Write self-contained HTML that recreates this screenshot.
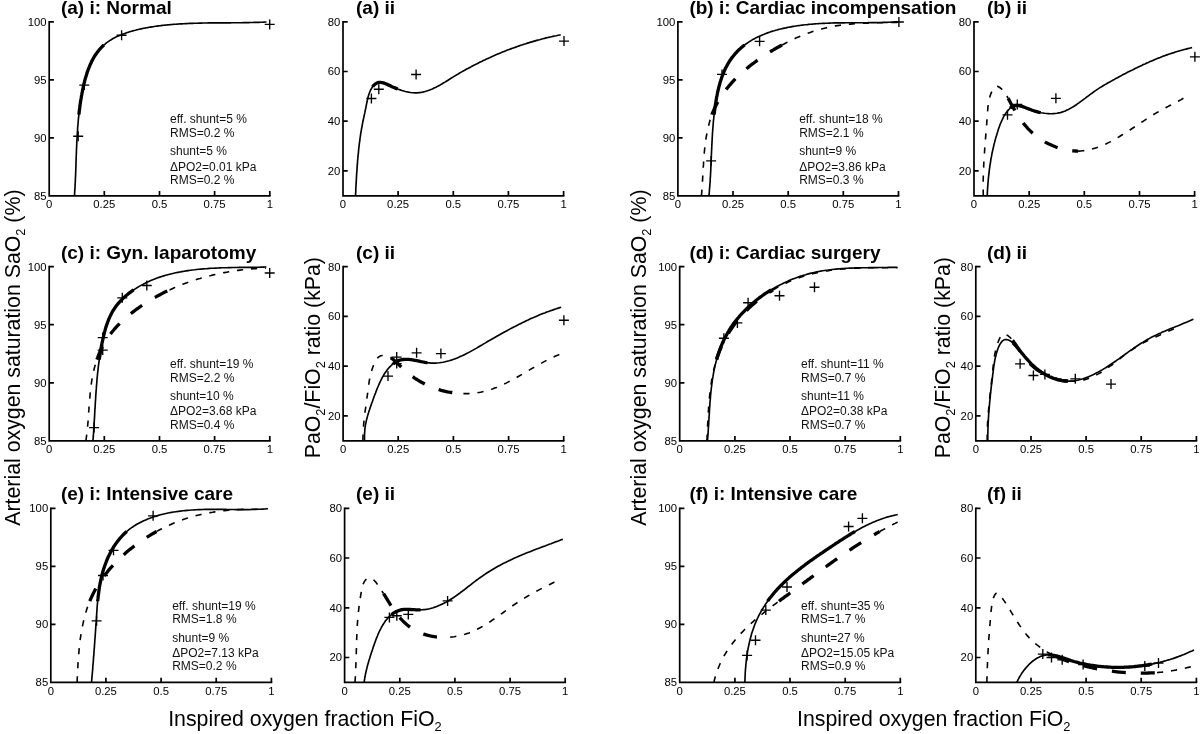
<!DOCTYPE html>
<html><head><meta charset="utf-8"><style>
html,body{margin:0;padding:0;background:#fff;}
svg{display:block;}
text{font-family:"Liberation Sans",sans-serif;fill:#000;}
.tl{font-size:11.3px;}
.an{font-size:12px;fill:#111;}
.tt{font-size:19px;font-weight:bold;}
.lb{font-size:21.3px;}
.ax{fill:none;stroke:#000;stroke-width:1.7;stroke-linecap:square;}
.tk{fill:none;stroke:#000;stroke-width:1.7;}
.mk{fill:none;stroke:#000;stroke-width:1.35;}
.s{fill:none;stroke:#000;stroke-width:1.65;stroke-linejoin:round;}
.S{fill:none;stroke:#000;stroke-width:3.3;stroke-linejoin:round;}
.d{fill:none;stroke:#000;stroke-width:1.6;stroke-dasharray:6.2 7.9;}
.D{fill:none;stroke:#000;stroke-width:3.3;stroke-dasharray:14 15;}
</style></head><body>
<svg width="1200" height="734" viewBox="0 0 1200 734">
<rect width="1200" height="734" fill="#fff"/>
<path class="ax" d="M49.2 21.8V195.8H269.8"/>
<text class="tl" x="49.2" y="208.3" text-anchor="middle">0</text>
<text class="tl" x="104.3" y="208.3" text-anchor="middle">0.25</text>
<text class="tl" x="159.5" y="208.3" text-anchor="middle">0.5</text>
<text class="tl" x="214.6" y="208.3" text-anchor="middle">0.75</text>
<text class="tl" x="269.8" y="208.3" text-anchor="middle">1</text>
<text class="tl" x="46.6" y="199.7" text-anchor="end">85</text>
<text class="tl" x="46.6" y="141.7" text-anchor="end">90</text>
<text class="tl" x="46.6" y="83.7" text-anchor="end">95</text>
<text class="tl" x="46.6" y="25.7" text-anchor="end">100</text>
<path class="tk" d="M104.3 195.8v-4.7M159.5 195.8v-4.7M214.6 195.8v-4.7M269.8 195.8v-4.7M49.2 137.8h4.7M49.2 79.8h4.7M49.2 21.8h4.7"/>
<text class="tt" x="60.9" y="13.9">(a) i: Normal</text>
<path class="ax" d="M343.0 21.8V195.8H563.6"/>
<text class="tl" x="343.0" y="208.3" text-anchor="middle">0</text>
<text class="tl" x="398.1" y="208.3" text-anchor="middle">0.25</text>
<text class="tl" x="453.3" y="208.3" text-anchor="middle">0.5</text>
<text class="tl" x="508.4" y="208.3" text-anchor="middle">0.75</text>
<text class="tl" x="563.6" y="208.3" text-anchor="middle">1</text>
<text class="tl" x="340.4" y="174.8" text-anchor="end">20</text>
<text class="tl" x="340.4" y="125.1" text-anchor="end">40</text>
<text class="tl" x="340.4" y="75.4" text-anchor="end">60</text>
<text class="tl" x="340.4" y="25.7" text-anchor="end">80</text>
<path class="tk" d="M398.1 195.8v-4.7M453.3 195.8v-4.7M508.4 195.8v-4.7M563.6 195.8v-4.7M343.0 170.9h4.7M343.0 121.2h4.7M343.0 71.5h4.7M343.0 21.8h4.7"/>
<text class="tt" x="356.0" y="13.9">(a) ii</text>
<path class="ax" d="M677.9 21.8V195.8H898.5"/>
<text class="tl" x="677.9" y="208.3" text-anchor="middle">0</text>
<text class="tl" x="733.0" y="208.3" text-anchor="middle">0.25</text>
<text class="tl" x="788.2" y="208.3" text-anchor="middle">0.5</text>
<text class="tl" x="843.3" y="208.3" text-anchor="middle">0.75</text>
<text class="tl" x="898.5" y="208.3" text-anchor="middle">1</text>
<text class="tl" x="675.3" y="199.7" text-anchor="end">85</text>
<text class="tl" x="675.3" y="141.7" text-anchor="end">90</text>
<text class="tl" x="675.3" y="83.7" text-anchor="end">95</text>
<text class="tl" x="675.3" y="25.7" text-anchor="end">100</text>
<path class="tk" d="M733.0 195.8v-4.7M788.2 195.8v-4.7M843.3 195.8v-4.7M898.5 195.8v-4.7M677.9 137.8h4.7M677.9 79.8h4.7M677.9 21.8h4.7"/>
<text class="tt" x="689.4" y="13.9">(b) i: Cardiac incompensation</text>
<path class="ax" d="M974.0 21.8V195.8H1194.6"/>
<text class="tl" x="974.0" y="208.3" text-anchor="middle">0</text>
<text class="tl" x="1029.2" y="208.3" text-anchor="middle">0.25</text>
<text class="tl" x="1084.3" y="208.3" text-anchor="middle">0.5</text>
<text class="tl" x="1139.5" y="208.3" text-anchor="middle">0.75</text>
<text class="tl" x="1194.6" y="208.3" text-anchor="middle">1</text>
<text class="tl" x="971.4" y="174.8" text-anchor="end">20</text>
<text class="tl" x="971.4" y="125.1" text-anchor="end">40</text>
<text class="tl" x="971.4" y="75.4" text-anchor="end">60</text>
<text class="tl" x="971.4" y="25.7" text-anchor="end">80</text>
<path class="tk" d="M1029.2 195.8v-4.7M1084.3 195.8v-4.7M1139.5 195.8v-4.7M1194.6 195.8v-4.7M974.0 170.9h4.7M974.0 121.2h4.7M974.0 71.5h4.7M974.0 21.8h4.7"/>
<text class="tt" x="987.0" y="13.9">(b) ii</text>
<path class="ax" d="M49.2 266.7V440.8H269.8"/>
<text class="tl" x="49.2" y="453.3" text-anchor="middle">0</text>
<text class="tl" x="104.3" y="453.3" text-anchor="middle">0.25</text>
<text class="tl" x="159.5" y="453.3" text-anchor="middle">0.5</text>
<text class="tl" x="214.6" y="453.3" text-anchor="middle">0.75</text>
<text class="tl" x="269.8" y="453.3" text-anchor="middle">1</text>
<text class="tl" x="46.6" y="444.7" text-anchor="end">85</text>
<text class="tl" x="46.6" y="386.7" text-anchor="end">90</text>
<text class="tl" x="46.6" y="328.6" text-anchor="end">95</text>
<text class="tl" x="46.6" y="270.6" text-anchor="end">100</text>
<path class="tk" d="M104.3 440.8v-4.7M159.5 440.8v-4.7M214.6 440.8v-4.7M269.8 440.8v-4.7M49.2 382.8h4.7M49.2 324.7h4.7M49.2 266.7h4.7"/>
<text class="tt" x="60.9" y="258.5">(c) i: Gyn. laparotomy</text>
<path class="ax" d="M343.1 266.7V440.8H563.7"/>
<text class="tl" x="343.1" y="453.3" text-anchor="middle">0</text>
<text class="tl" x="398.2" y="453.3" text-anchor="middle">0.25</text>
<text class="tl" x="453.4" y="453.3" text-anchor="middle">0.5</text>
<text class="tl" x="508.6" y="453.3" text-anchor="middle">0.75</text>
<text class="tl" x="563.7" y="453.3" text-anchor="middle">1</text>
<text class="tl" x="340.5" y="419.8" text-anchor="end">20</text>
<text class="tl" x="340.5" y="370.1" text-anchor="end">40</text>
<text class="tl" x="340.5" y="320.3" text-anchor="end">60</text>
<text class="tl" x="340.5" y="270.6" text-anchor="end">80</text>
<path class="tk" d="M398.2 440.8v-4.7M453.4 440.8v-4.7M508.6 440.8v-4.7M563.7 440.8v-4.7M343.1 415.9h4.7M343.1 366.2h4.7M343.1 316.4h4.7M343.1 266.7h4.7"/>
<text class="tt" x="356.0" y="258.5">(c) ii</text>
<path class="ax" d="M679.7 266.7V440.8H900.3"/>
<text class="tl" x="679.7" y="453.3" text-anchor="middle">0</text>
<text class="tl" x="734.9" y="453.3" text-anchor="middle">0.25</text>
<text class="tl" x="790.0" y="453.3" text-anchor="middle">0.5</text>
<text class="tl" x="845.2" y="453.3" text-anchor="middle">0.75</text>
<text class="tl" x="900.3" y="453.3" text-anchor="middle">1</text>
<text class="tl" x="677.1" y="444.7" text-anchor="end">85</text>
<text class="tl" x="677.1" y="386.7" text-anchor="end">90</text>
<text class="tl" x="677.1" y="328.6" text-anchor="end">95</text>
<text class="tl" x="677.1" y="270.6" text-anchor="end">100</text>
<path class="tk" d="M734.9 440.8v-4.7M790.0 440.8v-4.7M845.2 440.8v-4.7M900.3 440.8v-4.7M679.7 382.8h4.7M679.7 324.7h4.7M679.7 266.7h4.7"/>
<text class="tt" x="689.4" y="258.5">(d) i: Cardiac surgery</text>
<path class="ax" d="M975.8 266.7V440.8H1196.4"/>
<text class="tl" x="975.8" y="453.3" text-anchor="middle">0</text>
<text class="tl" x="1031.0" y="453.3" text-anchor="middle">0.25</text>
<text class="tl" x="1086.1" y="453.3" text-anchor="middle">0.5</text>
<text class="tl" x="1141.2" y="453.3" text-anchor="middle">0.75</text>
<text class="tl" x="1196.4" y="453.3" text-anchor="middle">1</text>
<text class="tl" x="973.2" y="419.8" text-anchor="end">20</text>
<text class="tl" x="973.2" y="370.1" text-anchor="end">40</text>
<text class="tl" x="973.2" y="320.3" text-anchor="end">60</text>
<text class="tl" x="973.2" y="270.6" text-anchor="end">80</text>
<path class="tk" d="M1031.0 440.8v-4.7M1086.1 440.8v-4.7M1141.2 440.8v-4.7M1196.4 440.8v-4.7M975.8 415.9h4.7M975.8 366.2h4.7M975.8 316.4h4.7M975.8 266.7h4.7"/>
<text class="tt" x="987.0" y="258.5">(d) ii</text>
<path class="ax" d="M50.8 508.3V682.4H271.4"/>
<text class="tl" x="50.8" y="694.9" text-anchor="middle">0</text>
<text class="tl" x="105.9" y="694.9" text-anchor="middle">0.25</text>
<text class="tl" x="161.1" y="694.9" text-anchor="middle">0.5</text>
<text class="tl" x="216.2" y="694.9" text-anchor="middle">0.75</text>
<text class="tl" x="271.4" y="694.9" text-anchor="middle">1</text>
<text class="tl" x="48.2" y="686.3" text-anchor="end">85</text>
<text class="tl" x="48.2" y="628.3" text-anchor="end">90</text>
<text class="tl" x="48.2" y="570.2" text-anchor="end">95</text>
<text class="tl" x="48.2" y="512.2" text-anchor="end">100</text>
<path class="tk" d="M105.9 682.4v-4.7M161.1 682.4v-4.7M216.2 682.4v-4.7M271.4 682.4v-4.7M50.8 624.4h4.7M50.8 566.3h4.7M50.8 508.3h4.7"/>
<text class="tt" x="60.9" y="499.8">(e) i: Intensive care</text>
<path class="ax" d="M344.6 508.3V682.4H565.2"/>
<text class="tl" x="344.6" y="694.9" text-anchor="middle">0</text>
<text class="tl" x="399.8" y="694.9" text-anchor="middle">0.25</text>
<text class="tl" x="454.9" y="694.9" text-anchor="middle">0.5</text>
<text class="tl" x="510.1" y="694.9" text-anchor="middle">0.75</text>
<text class="tl" x="565.2" y="694.9" text-anchor="middle">1</text>
<text class="tl" x="342.0" y="661.4" text-anchor="end">20</text>
<text class="tl" x="342.0" y="611.7" text-anchor="end">40</text>
<text class="tl" x="342.0" y="561.9" text-anchor="end">60</text>
<text class="tl" x="342.0" y="512.2" text-anchor="end">80</text>
<path class="tk" d="M399.8 682.4v-4.7M454.9 682.4v-4.7M510.1 682.4v-4.7M565.2 682.4v-4.7M344.6 657.5h4.7M344.6 607.8h4.7M344.6 558.0h4.7M344.6 508.3h4.7"/>
<text class="tt" x="356.0" y="499.8">(e) ii</text>
<path class="ax" d="M679.7 508.3V682.4H900.3"/>
<text class="tl" x="679.7" y="694.9" text-anchor="middle">0</text>
<text class="tl" x="734.9" y="694.9" text-anchor="middle">0.25</text>
<text class="tl" x="790.0" y="694.9" text-anchor="middle">0.5</text>
<text class="tl" x="845.2" y="694.9" text-anchor="middle">0.75</text>
<text class="tl" x="900.3" y="694.9" text-anchor="middle">1</text>
<text class="tl" x="677.1" y="686.3" text-anchor="end">85</text>
<text class="tl" x="677.1" y="628.3" text-anchor="end">90</text>
<text class="tl" x="677.1" y="570.2" text-anchor="end">95</text>
<text class="tl" x="677.1" y="512.2" text-anchor="end">100</text>
<path class="tk" d="M734.9 682.4v-4.7M790.0 682.4v-4.7M845.2 682.4v-4.7M900.3 682.4v-4.7M679.7 624.4h4.7M679.7 566.3h4.7M679.7 508.3h4.7"/>
<text class="tt" x="689.4" y="499.8">(f) i: Intensive care</text>
<path class="ax" d="M975.8 508.3V682.4H1196.4"/>
<text class="tl" x="975.8" y="694.9" text-anchor="middle">0</text>
<text class="tl" x="1031.0" y="694.9" text-anchor="middle">0.25</text>
<text class="tl" x="1086.1" y="694.9" text-anchor="middle">0.5</text>
<text class="tl" x="1141.2" y="694.9" text-anchor="middle">0.75</text>
<text class="tl" x="1196.4" y="694.9" text-anchor="middle">1</text>
<text class="tl" x="973.2" y="661.4" text-anchor="end">20</text>
<text class="tl" x="973.2" y="611.7" text-anchor="end">40</text>
<text class="tl" x="973.2" y="561.9" text-anchor="end">60</text>
<text class="tl" x="973.2" y="512.2" text-anchor="end">80</text>
<path class="tk" d="M1031.0 682.4v-4.7M1086.1 682.4v-4.7M1141.2 682.4v-4.7M1196.4 682.4v-4.7M975.8 657.5h4.7M975.8 607.8h4.7M975.8 558.0h4.7M975.8 508.3h4.7"/>
<text class="tt" x="987.0" y="499.8">(f) ii</text>
<path class="s" d="M74.5 195.8 74.6 194.4 74.6 193.1 74.7 191.7 74.8 190.4 74.9 189.0 75.0 187.6 75.1 186.3 75.1 184.9 75.2 183.6 75.3 182.2 75.3 180.9 75.4 179.5 75.4 178.1 75.5 176.8 75.6 175.4 75.6 174.1 75.7 172.7 75.7 171.4 75.8 170.0 75.8 168.7 75.9 167.3 75.9 166.0 76.0 164.6 76.0 163.3 76.0 161.9 76.1 160.6 76.1 159.2 76.2 157.9 76.2 156.5 76.3 155.2 76.3 153.8 76.4 152.5 76.4 151.1 76.5 149.8 76.5 148.4 76.6 147.1 76.7 145.7 76.7 144.4 76.8 143.1 76.8 141.7 76.9 140.4 77.0 139.0 77.1 137.7 77.1 136.3 77.2 135.0 77.3 133.6 77.4 132.3 77.5 130.9 77.6 129.6 77.6 128.2 77.7 126.9 77.9 125.5 78.0 124.2 78.1 122.8 78.2 121.5 78.3 120.2 78.4 118.8 78.6 117.5 78.7 116.1 78.9 114.8 79.0 113.4 79.2 112.1 79.3 110.7 79.5 109.4 79.7 108.0 79.8 106.7 80.0 105.3 80.2 104.0 80.4 102.6 80.6 101.3 80.8 99.9 81.1 98.6 81.3 97.2 81.5 95.9 81.8 94.5 82.0 93.1 82.3 91.8 82.5 90.4 82.8 89.1 83.1 87.7 83.4 86.4 83.7 85.0 84.0 83.7 84.4 82.3 84.7 81.0 85.0 79.6 85.4 78.3 85.8 77.0 86.2 75.7 86.6 74.4 87.0 73.1 87.4 71.8 87.9 70.5 88.4 69.2 88.9 67.9 89.4 66.7 89.9 65.4 90.4 64.2 91.0 63.0 91.5 61.8 92.1 60.6 92.8 59.4 93.4 58.3 94.0 57.2 94.7 56.0 95.4 54.9 96.2 53.9 96.9 52.8 97.7 51.8 98.5 50.7 99.3 49.7 100.1 48.8 101.0 47.8 101.9 46.9 102.8 46.0 103.8 45.1 104.8 44.3 105.8 43.4 106.8 42.6 107.9 41.9 109.0 41.1 110.1 40.4 111.2 39.7 112.3 39.0 113.5 38.3 114.7 37.7 115.9 37.1 117.1 36.5 118.4 35.9 119.6 35.4 120.9 34.9 122.2 34.3 123.5 33.9 124.8 33.4 126.1 32.9 127.4 32.5 128.8 32.1 130.1 31.6 131.4 31.3 132.8 30.9 134.1 30.5 135.5 30.2 136.8 29.8 138.1 29.5 139.5 29.2 140.8 28.9 142.2 28.6 143.5 28.3 144.9 28.1 146.3 27.8 147.6 27.6 149.0 27.3 150.3 27.1 151.7 26.9 153.0 26.7 154.4 26.5 155.7 26.3 157.1 26.1 158.4 25.9 159.8 25.8 161.1 25.6 162.5 25.4 163.8 25.3 165.2 25.1 166.5 25.0 167.9 24.9 169.2 24.8 170.6 24.6 171.9 24.5 173.3 24.4 174.6 24.3 176.0 24.2 177.3 24.1 178.7 24.0 180.0 23.9 181.4 23.8 182.7 23.8 184.1 23.7 185.4 23.6 186.7 23.6 188.1 23.5 189.4 23.4 190.8 23.4 192.1 23.3 193.5 23.3 194.8 23.2 196.1 23.2 197.5 23.2 198.8 23.1 200.2 23.1 201.5 23.1 202.9 23.0 204.2 23.0 205.6 23.0 206.9 23.0 208.2 22.9 209.6 22.9 210.9 22.9 212.3 22.9 213.6 22.9 215.0 22.9 216.3 22.8 217.7 22.8 219.0 22.8 220.3 22.8 221.7 22.8 223.0 22.8 224.4 22.8 225.7 22.8 227.1 22.8 228.4 22.8 229.8 22.8 231.1 22.8 232.5 22.7 233.8 22.7 235.2 22.7 236.5 22.7 237.9 22.7 239.3 22.7 240.6 22.7 242.0 22.7 243.3 22.6 244.7 22.6 246.0 22.6 247.4 22.6 248.8 22.6 250.1 22.5 251.5 22.5 252.8 22.5 254.2 22.4 255.6 22.4 256.9 22.4 258.3 22.3 259.7 22.3 261.0 22.2 262.4 22.2 263.8 22.1 265.1 22.0 266.5 22.0"/>
<path class="S" d="M78.9 114.6 79.0 113.4 79.2 112.1 79.3 110.7 79.5 109.4 79.7 108.0 79.8 106.7 80.0 105.3 80.2 104.0 80.4 102.6 80.6 101.3 80.8 99.9 81.1 98.6 81.3 97.2 81.5 95.9 81.8 94.5 82.0 93.1 82.3 91.8 82.5 90.4 82.8 89.1 83.1 87.7 83.4 86.4 83.7 85.0 84.0 83.7 84.4 82.3 84.7 81.0 85.0 79.6 85.4 78.3 85.8 77.0 86.2 75.7 86.6 74.4 87.0 73.1 87.4 71.8 87.9 70.5 88.4 69.2 88.9 67.9 89.4 66.7 89.9 65.4 90.4 64.2 91.0 63.0 91.5 61.8 92.1 60.6 92.8 59.4 93.4 58.3 94.0 57.2 94.7 56.0 95.4 54.9 96.2 53.9 96.9 52.8 97.7 51.8 98.5 50.7 99.3 49.7 100.1 48.8 101.0 47.8 101.9 46.9 102.8 46.0 103.8 45.1 103.9 45.0"/>
<path class="s" d="M355.5 195.8 355.6 194.1 355.7 192.4 355.8 190.6 355.8 188.9 355.9 187.2 356.0 185.4 356.1 183.7 356.2 181.9 356.3 180.2 356.4 178.4 356.5 176.7 356.6 174.9 356.7 173.1 356.9 171.3 357.0 169.6 357.1 167.8 357.2 166.0 357.4 164.2 357.5 162.5 357.6 160.7 357.8 158.9 357.9 157.1 358.1 155.4 358.3 153.6 358.5 151.8 358.6 150.1 358.8 148.3 359.0 146.5 359.2 144.8 359.4 143.0 359.7 141.3 359.9 139.5 360.1 137.8 360.4 136.1 360.6 134.3 360.9 132.6 361.2 130.9 361.5 129.2 361.8 127.5 362.1 125.8 362.4 124.1 362.7 122.5 363.1 120.8 363.4 119.1 363.8 117.5 364.1 115.8 364.5 114.1 364.9 112.4 365.2 110.6 365.6 108.9 366.0 107.1 366.3 105.2 366.7 103.4 367.1 101.5 367.5 99.6 367.9 97.8 368.4 95.9 369.0 94.1 369.6 92.4 370.3 90.7 371.1 89.1 372.0 87.7 372.9 86.3 374.0 85.1 375.1 84.1 376.4 83.3 377.7 82.7 379.0 82.4 380.4 82.4 381.9 82.6 383.4 82.9 385.0 83.5 386.6 84.1 388.2 84.9 389.9 85.6 391.5 86.4 393.2 87.2 394.9 87.9 396.7 88.6 398.4 89.3 400.2 89.9 401.9 90.5 403.7 91.0 405.4 91.5 407.2 91.9 408.9 92.2 410.7 92.5 412.4 92.7 414.2 92.8 415.9 92.8 417.6 92.8 419.3 92.6 421.0 92.4 422.6 92.1 424.3 91.7 425.9 91.3 427.5 90.8 429.2 90.2 430.8 89.6 432.4 88.9 434.0 88.1 435.5 87.4 437.1 86.6 438.7 85.7 440.2 84.9 441.8 84.0 443.3 83.0 444.9 82.1 446.4 81.2 448.0 80.2 449.5 79.3 451.0 78.3 452.5 77.4 454.1 76.4 455.6 75.5 457.1 74.6 458.6 73.7 460.1 72.8 461.7 71.9 463.2 71.0 464.7 70.2 466.2 69.3 467.8 68.5 469.3 67.7 470.8 66.9 472.4 66.0 473.9 65.2 475.4 64.5 477.0 63.7 478.5 62.9 480.1 62.1 481.7 61.4 483.2 60.6 484.8 59.9 486.4 59.1 488.0 58.4 489.6 57.7 491.2 56.9 492.8 56.2 494.4 55.5 496.0 54.8 497.6 54.1 499.3 53.4 500.9 52.8 502.5 52.1 504.2 51.4 505.8 50.8 507.5 50.1 509.1 49.5 510.8 48.9 512.4 48.3 514.1 47.7 515.8 47.1 517.4 46.5 519.1 45.9 520.8 45.3 522.4 44.8 524.1 44.2 525.8 43.7 527.5 43.1 529.2 42.6 530.9 42.1 532.6 41.6 534.3 41.1 536.0 40.6 537.7 40.1 539.4 39.7 541.1 39.2 542.8 38.8 544.5 38.4 546.2 37.9 547.9 37.5 549.6 37.1 551.3 36.8 553.0 36.4 554.7 36.0 556.4 35.7 558.1 35.3 559.8 35.0 560.7 34.9"/>
<path class="S" d="M372.7 86.7 372.9 86.3 374.0 85.1 375.1 84.1 376.4 83.3 377.7 82.7 379.0 82.4 380.4 82.4 381.9 82.6 383.4 82.9 385.0 83.5 386.6 84.1 388.2 84.9 389.9 85.6 391.5 86.4 393.2 87.2 394.9 87.9 396.7 88.6 397.7 89.0"/>
<path class="s" d="M708.9 195.8 709.1 194.5 709.2 193.3 709.3 192.0 709.4 190.8 709.5 189.5 709.6 188.2 709.7 187.0 709.8 185.7 709.9 184.5 710.0 183.2 710.1 182.0 710.2 180.7 710.2 179.4 710.3 178.2 710.4 176.9 710.5 175.7 710.5 174.4 710.6 173.1 710.7 171.9 710.7 170.6 710.8 169.4 710.8 168.1 710.9 166.8 711.0 165.6 711.0 164.3 711.1 163.1 711.1 161.8 711.2 160.5 711.2 159.3 711.3 158.0 711.3 156.8 711.4 155.5 711.4 154.2 711.5 153.0 711.5 151.7 711.6 150.5 711.7 149.2 711.7 147.9 711.8 146.7 711.8 145.4 711.9 144.1 712.0 142.9 712.0 141.6 712.1 140.4 712.2 139.1 712.2 137.8 712.3 136.6 712.4 135.3 712.4 134.0 712.5 132.8 712.6 131.5 712.7 130.3 712.8 129.0 712.9 127.7 713.0 126.5 713.1 125.2 713.2 123.9 713.3 122.7 713.4 121.4 713.5 120.1 713.7 118.9 713.8 117.6 713.9 116.3 714.1 115.1 714.2 113.8 714.4 112.6 714.5 111.3 714.7 110.0 714.8 108.8 715.0 107.5 715.2 106.2 715.4 105.0 715.6 103.7 715.8 102.4 716.0 101.2 716.2 99.9 716.4 98.6 716.6 97.4 716.9 96.1 717.1 94.8 717.4 93.6 717.6 92.3 717.9 91.1 718.2 89.8 718.5 88.6 718.8 87.3 719.1 86.1 719.5 84.8 719.8 83.6 720.1 82.4 720.5 81.2 720.9 79.9 721.3 78.7 721.7 77.5 722.1 76.4 722.6 75.2 723.0 74.0 723.5 72.8 724.0 71.7 724.5 70.5 725.0 69.4 725.5 68.3 726.1 67.2 726.7 66.1 727.3 65.0 727.9 63.9 728.5 62.8 729.1 61.8 729.8 60.8 730.5 59.7 731.2 58.7 731.9 57.7 732.7 56.8 733.5 55.8 734.2 54.9 735.0 53.9 735.9 53.0 736.7 52.1 737.5 51.2 738.4 50.3 739.3 49.5 740.2 48.7 741.1 47.8 742.1 47.0 743.0 46.2 744.0 45.5 745.0 44.7 745.9 44.0 747.0 43.3 748.0 42.6 749.0 41.9 750.1 41.2 751.1 40.6 752.2 39.9 753.3 39.3 754.4 38.7 755.5 38.1 756.6 37.6 757.7 37.0 758.8 36.5 760.0 35.9 761.1 35.4 762.3 34.9 763.5 34.5 764.7 34.0 765.9 33.5 767.0 33.1 768.3 32.6 769.5 32.2 770.7 31.8 771.9 31.4 773.1 31.0 774.4 30.7 775.6 30.3 776.9 30.0 778.1 29.6 779.4 29.3 780.6 29.0 781.9 28.7 783.2 28.4 784.4 28.1 785.7 27.9 787.0 27.6 788.2 27.3 789.5 27.1 790.8 26.9 792.1 26.6 793.4 26.4 794.6 26.2 795.9 26.0 797.2 25.8 798.5 25.6 799.8 25.5 801.0 25.3 802.3 25.1 803.6 25.0 804.8 24.8 806.1 24.7 807.4 24.6 808.6 24.4 809.9 24.3 811.2 24.2 812.4 24.1 813.7 24.0 815.0 23.9 816.2 23.8 817.5 23.7 818.7 23.6 820.0 23.5 821.2 23.5 822.5 23.4 823.8 23.3 825.0 23.3 826.3 23.2 827.5 23.2 828.8 23.1 830.0 23.1 831.3 23.0 832.5 23.0 833.8 22.9 835.0 22.9 836.2 22.9 837.5 22.9 838.7 22.8 840.0 22.8 841.2 22.8 842.5 22.8 843.7 22.8 845.0 22.8 846.2 22.7 847.5 22.7 848.7 22.7 850.0 22.7 851.2 22.7 852.5 22.7 853.7 22.7 855.0 22.7 856.2 22.7 857.5 22.7 858.7 22.7 860.0 22.7 861.2 22.7 862.5 22.7 863.7 22.7 865.0 22.7 866.2 22.7 867.5 22.7 868.7 22.6 870.0 22.6 871.3 22.6 872.5 22.6 873.8 22.6 875.0 22.6 876.3 22.6 877.6 22.5 878.8 22.5 880.1 22.5 881.4 22.5 882.6 22.4 883.9 22.4 885.2 22.4 886.5 22.3 887.7 22.3 889.0 22.2 890.3 22.2 891.6 22.1 892.9 22.0 894.2 22.0 895.4 21.9 896.7 21.8 898.0 21.8"/>
<path class="S" d="M714.1 114.6 714.2 113.8 714.4 112.6 714.5 111.3 714.7 110.0 714.8 108.8 715.0 107.5 715.2 106.2 715.4 105.0 715.6 103.7 715.8 102.4 716.0 101.2 716.2 99.9 716.4 98.6 716.6 97.4 716.9 96.1 717.1 94.8 717.4 93.6 717.6 92.3 717.9 91.1 718.2 89.8 718.5 88.6 718.8 87.3 719.1 86.1 719.5 84.8 719.8 83.6 720.1 82.4 720.5 81.2 720.9 79.9 721.3 78.7 721.7 77.5 722.1 76.4 722.6 75.2 723.0 74.0 723.5 72.8 724.0 71.7 724.5 70.5 725.0 69.4 725.5 68.3 726.1 67.2 726.7 66.1 727.3 65.0 727.9 63.9 728.5 62.8 729.1 61.8 729.8 60.8 730.5 59.7 731.2 58.7 731.9 57.7 732.7 56.8 733.5 55.8 734.2 54.9 735.0 53.9 735.9 53.0 736.7 52.1 737.5 51.2 738.4 50.3 739.3 49.5 740.2 48.7 741.1 47.8 742.1 47.0 743.0 46.2 744.0 45.5 744.6 45.0"/>
<path class="d" d="M701.4 195.8 701.6 193.7 701.8 191.7 701.9 189.7 702.1 187.6 702.2 185.5 702.4 183.5 702.5 181.4 702.6 179.3 702.7 177.2 702.8 175.1 703.0 173.0 703.1 170.8 703.2 168.7 703.3 166.6 703.5 164.4 703.6 162.3 703.7 160.1 703.9 158.0 704.1 155.8 704.2 153.7 704.4 151.5 704.6 149.4 704.9 147.3 705.1 145.1 705.4 143.0 705.7 140.8 706.0 138.7 706.3 136.6 706.7 134.5 707.1 132.4 707.5 130.3 708.0 128.2 708.5 126.1 709.0 124.1 709.5 122.1 710.1 120.0 710.8 118.0 711.4 116.1 712.0 114.6"/>
<path class="D" d="M712.0 114.6 712.1 114.1 712.9 112.2 713.7 110.3 714.5 108.4 715.4 106.5 716.4 104.7 717.3 102.8 718.3 101.0 719.4 99.3 720.5 97.5 721.6 95.8 722.7 94.1 723.9 92.4 725.2 90.7 726.4 89.1 727.7 87.5 729.0 85.9 730.4 84.3 731.8 82.7 733.2 81.2 734.6 79.7 736.1 78.2 737.6 76.7 739.1 75.2 740.7 73.8 742.2 72.4 743.8 71.0 745.4 69.6 747.1 68.2 748.7 66.9 750.4 65.5 752.1 64.2 753.8 63.0 755.5 61.7 757.2 60.4 759.0 59.2 760.7 58.0 762.5 56.8 764.3 55.6 766.1 54.4 767.9 53.3 769.7 52.1 771.5 51.0 773.4 49.9 775.2 48.8 777.0 47.8 778.9 46.7 780.7 45.7 782.0 45.0"/>
<path class="d" d="M782.0 45.0 782.6 44.7 784.5 43.7 786.3 42.7 788.2 41.8 790.1 40.8 792.0 39.9 793.9 39.0 795.8 38.1 797.8 37.3 799.7 36.5 801.6 35.7 803.6 34.9 805.5 34.1 807.5 33.4 809.5 32.7 811.4 32.0 813.4 31.3 815.4 30.7 817.4 30.1 819.4 29.5 821.4 29.0 823.5 28.5 825.5 28.0 827.5 27.5 829.6 27.1 831.6 26.6 833.7 26.3 835.8 25.9 837.8 25.6 839.9 25.3 842.0 25.0 844.1 24.8 846.2 24.5 848.3 24.3 850.4 24.1 852.5 23.9 854.7 23.8 856.8 23.6 858.9 23.5 861.0 23.4 863.1 23.3 865.3 23.2 867.4 23.1 869.5 23.0 871.6 23.0 873.8 22.9 875.9 22.9 878.0 22.8 880.1 22.8 882.3 22.7 884.4 22.7 886.5 22.6 888.6 22.6 890.7 22.5 892.8 22.5 894.9 22.4 897.0 22.4 898.0 22.3"/>
<path class="s" d="M987.2 195.8 987.3 193.9 987.4 192.0 987.5 190.2 987.6 188.3 987.7 186.5 987.9 184.6 988.0 182.8 988.2 181.0 988.3 179.2 988.5 177.4 988.7 175.6 988.9 173.9 989.1 172.1 989.3 170.3 989.5 168.6 989.8 166.8 990.0 165.1 990.3 163.3 990.6 161.6 990.8 159.9 991.1 158.1 991.5 156.4 991.8 154.6 992.1 152.9 992.5 151.2 992.9 149.4 993.3 147.7 993.7 145.9 994.1 144.2 994.6 142.4 995.0 140.7 995.5 138.9 996.0 137.1 996.6 135.3 997.1 133.5 997.7 131.8 998.2 129.9 998.8 128.1 999.5 126.3 1000.1 124.5 1000.8 122.8 1001.6 121.0 1002.4 119.3 1003.2 117.6 1004.1 115.9 1005.1 114.4 1006.1 112.8 1007.2 111.4 1008.4 110.0 1009.6 108.7 1010.9 107.5 1012.3 106.6 1013.8 106.0 1015.3 105.6 1016.8 105.5 1018.4 105.6 1020.0 105.9 1021.7 106.3 1023.4 106.9 1025.1 107.5 1026.8 108.2 1028.6 108.9 1030.4 109.5 1032.1 110.2 1033.9 110.8 1035.7 111.3 1037.5 111.8 1039.3 112.3 1041.1 112.7 1042.9 113.0 1044.7 113.3 1046.5 113.5 1048.2 113.6 1050.0 113.7 1051.8 113.7 1053.5 113.6 1055.2 113.5 1057.0 113.3 1058.7 112.9 1060.4 112.6 1062.0 112.1 1063.7 111.5 1065.3 110.9 1066.9 110.1 1068.5 109.4 1070.1 108.5 1071.6 107.6 1073.2 106.7 1074.8 105.7 1076.3 104.7 1077.8 103.6 1079.3 102.6 1080.9 101.4 1082.4 100.3 1083.9 99.2 1085.4 98.1 1086.9 96.9 1088.4 95.8 1089.9 94.7 1091.4 93.6 1092.9 92.5 1094.4 91.4 1095.9 90.4 1097.4 89.4 1098.9 88.4 1100.4 87.4 1102.0 86.5 1103.5 85.5 1105.0 84.6 1106.6 83.7 1108.1 82.8 1109.7 82.0 1111.2 81.1 1112.8 80.2 1114.3 79.4 1115.9 78.5 1117.5 77.7 1119.1 76.8 1120.6 76.0 1122.2 75.1 1123.8 74.3 1125.4 73.5 1127.0 72.6 1128.6 71.8 1130.2 71.0 1131.9 70.2 1133.5 69.4 1135.1 68.6 1136.8 67.8 1138.4 67.0 1140.0 66.2 1141.7 65.4 1143.3 64.6 1145.0 63.9 1146.7 63.1 1148.3 62.4 1150.0 61.6 1151.7 60.9 1153.3 60.2 1155.0 59.5 1156.7 58.8 1158.4 58.1 1160.1 57.5 1161.8 56.8 1163.5 56.1 1165.2 55.5 1166.9 54.9 1168.6 54.3 1170.3 53.7 1172.1 53.1 1173.8 52.6 1175.5 52.0 1177.2 51.5 1179.0 51.0 1180.7 50.5 1182.5 50.0 1184.2 49.5 1186.0 49.1 1187.7 48.6 1189.5 48.2 1191.2 47.8 1192.1 47.6"/>
<path class="S" d="M1010.2 108.2 1010.9 107.5 1012.3 106.6 1013.8 106.0 1015.3 105.6 1016.8 105.5 1018.4 105.6 1020.0 105.9 1021.7 106.3 1023.4 106.9 1025.1 107.5 1026.8 108.2 1028.6 108.9 1030.4 109.5 1032.1 110.2 1033.9 110.8 1035.7 111.3 1037.5 111.8 1039.3 112.3 1040.7 112.6"/>
<path class="d" d="M983.3 195.8 983.3 193.9 983.2 192.1 983.2 190.2 983.2 188.4 983.2 186.6 983.2 184.7 983.2 182.9 983.2 181.1 983.2 179.3 983.3 177.5 983.3 175.7 983.4 173.9 983.4 172.1 983.5 170.3 983.6 168.5 983.7 166.7 983.7 164.9 983.8 163.2 983.9 161.4 984.0 159.6 984.1 157.8 984.3 156.1 984.4 154.3 984.5 152.5 984.6 150.7 984.7 149.0 984.9 147.2 985.0 145.4 985.1 143.6 985.3 141.9 985.4 140.1 985.5 138.3 985.7 136.5 985.8 134.7 986.0 132.9 986.1 131.1 986.3 129.3 986.4 127.5 986.5 125.7 986.7 123.9 986.8 122.0 986.9 120.2 987.1 118.3 987.2 116.5 987.3 114.6 987.5 112.8 987.6 110.9 987.8 109.0 987.9 107.2 988.2 105.3 988.4 103.5 988.7 101.7 989.1 99.9 989.5 98.1 990.0 96.3 990.6 94.6 991.2 92.9 992.0 91.2 992.8 89.6 993.8 88.2 994.8 87.1 996.0 86.5 997.2 86.3 998.5 86.7 999.8 87.5 1001.1 88.5 1002.4 89.8 1003.6 91.2 1004.7 92.6 1005.7 94.2 1006.7 95.8 1007.7 97.4 1008.1 98.2"/>
<path class="D" d="M1008.1 98.2 1008.6 99.1 1009.5 100.8 1010.4 102.5 1011.3 104.2 1012.2 105.9 1013.1 107.5 1014.1 109.2 1015.0 110.8 1015.9 112.3 1016.9 113.9 1017.9 115.4 1018.9 116.9 1019.9 118.4 1020.9 119.9 1021.9 121.3 1023.0 122.7 1024.1 124.1 1025.2 125.4 1026.4 126.8 1027.5 128.1 1028.7 129.3 1030.0 130.6 1031.2 131.8 1032.5 133.0 1033.9 134.2 1035.2 135.3 1036.6 136.4 1038.1 137.5 1039.5 138.5 1041.0 139.5 1042.6 140.5 1044.2 141.4 1045.7 142.4 1047.4 143.2 1049.0 144.1 1050.7 144.8 1052.4 145.6 1054.1 146.3 1055.8 147.0 1057.6 147.6 1059.3 148.2 1061.1 148.7 1062.9 149.2 1064.6 149.6 1066.4 150.0 1068.2 150.3 1070.0 150.6 1071.8 150.8 1073.6 150.9 1075.4 151.0 1077.2 151.1 1078.1 151.1"/>
<path class="d" d="M1078.1 151.1 1079.0 151.1 1080.8 151.0 1082.6 150.8 1084.3 150.6 1086.1 150.4 1087.8 150.1 1089.5 149.7 1091.3 149.3 1093.0 148.8 1094.7 148.3 1096.4 147.8 1098.1 147.2 1099.8 146.5 1101.4 145.9 1103.1 145.2 1104.8 144.4 1106.4 143.7 1108.0 142.9 1109.7 142.1 1111.3 141.2 1112.9 140.3 1114.5 139.5 1116.1 138.6 1117.6 137.6 1119.2 136.7 1120.7 135.8 1122.3 134.8 1123.8 133.9 1125.4 132.9 1126.9 131.9 1128.4 130.9 1129.9 130.0 1131.4 129.0 1132.9 128.0 1134.4 127.0 1135.9 126.0 1137.4 125.0 1138.9 124.0 1140.4 123.0 1141.9 122.0 1143.4 121.1 1144.9 120.1 1146.4 119.1 1147.9 118.1 1149.4 117.2 1150.9 116.2 1152.5 115.3 1154.0 114.3 1155.5 113.4 1157.1 112.5 1158.7 111.6 1160.2 110.7 1161.8 109.8 1163.4 108.9 1165.0 108.1 1166.6 107.2 1168.2 106.4 1169.9 105.5 1171.5 104.7 1173.1 103.9 1174.7 103.0 1176.3 102.2 1177.9 101.3 1179.5 100.5 1181.1 99.6 1182.6 98.7 1184.2 97.8 1185.7 96.9 1186.5 96.5"/>
<path class="s" d="M92.9 440.8 93.1 438.7 93.3 436.7 93.4 434.6 93.6 432.5 93.7 430.4 93.8 428.4 94.0 426.3 94.1 424.2 94.2 422.2 94.3 420.1 94.5 418.0 94.6 415.9 94.7 413.8 94.8 411.8 94.9 409.7 95.1 407.6 95.2 405.5 95.3 403.4 95.4 401.4 95.6 399.3 95.7 397.2 95.8 395.1 96.0 393.0 96.1 390.9 96.3 388.9 96.4 386.8 96.6 384.7 96.8 382.6 96.9 380.5 97.1 378.4 97.3 376.4 97.5 374.3 97.7 372.2 98.0 370.1 98.2 368.0 98.4 366.0 98.7 363.9 99.0 361.8 99.3 359.7 99.5 357.7 99.9 355.6 100.2 353.5 100.5 351.5 100.9 349.4 101.2 347.3 101.6 345.3 102.0 343.2 102.5 341.2 102.9 339.1 103.4 337.1 103.8 335.0 104.3 333.0 104.9 330.9 105.4 328.9 106.0 326.9 106.7 324.9 107.4 323.0 108.1 321.0 108.8 319.1 109.7 317.2 110.5 315.4 111.5 313.5 112.4 311.7 113.5 310.0 114.6 308.3 115.8 306.6 117.0 305.0 118.3 303.4 119.7 301.8 121.1 300.3 122.6 298.8 124.1 297.4 125.6 296.0 127.2 294.7 128.8 293.4 130.5 292.1 132.2 290.9 133.9 289.7 135.6 288.6 137.4 287.5 139.2 286.4 141.0 285.4 142.8 284.4 144.6 283.5 146.4 282.5 148.3 281.7 150.2 280.8 152.1 280.0 154.0 279.3 155.9 278.5 157.8 277.8 159.8 277.1 161.7 276.5 163.7 275.9 165.7 275.3 167.7 274.7 169.7 274.2 171.7 273.7 173.8 273.2 175.8 272.8 177.9 272.4 179.9 272.0 182.0 271.6 184.1 271.2 186.1 270.9 188.2 270.6 190.3 270.3 192.4 270.0 194.5 269.8 196.6 269.5 198.8 269.3 200.9 269.1 203.0 268.9 205.1 268.7 207.2 268.6 209.4 268.4 211.5 268.3 213.6 268.2 215.7 268.1 217.9 268.0 220.0 267.9 222.1 267.8 224.2 267.7 226.3 267.7 228.5 267.6 230.6 267.6 232.7 267.5 234.8 267.5 236.9 267.5 239.0 267.4 241.0 267.4 243.1 267.4 245.2 267.4 247.3 267.3 249.3 267.3 251.4 267.3 253.4 267.3 255.4 267.2 257.4 267.2 259.4 267.2 261.4 267.1 263.4 267.1 265.4 267.0 266.4 267.0"/>
<path class="S" d="M99.3 359.6 99.5 357.7 99.9 355.6 100.2 353.5 100.5 351.5 100.9 349.4 101.2 347.3 101.6 345.3 102.0 343.2 102.5 341.2 102.9 339.1 103.4 337.1 103.8 335.0 104.3 333.0 104.9 330.9 105.4 328.9 106.0 326.9 106.7 324.9 107.4 323.0 108.1 321.0 108.8 319.1 109.7 317.2 110.5 315.4 111.5 313.5 112.4 311.7 113.5 310.0 114.6 308.3 115.8 306.6 117.0 305.0 118.3 303.4 119.7 301.8 121.1 300.3 122.6 298.8 124.1 297.4 125.6 296.0 127.2 294.7 128.8 293.4 130.5 292.1 132.2 290.9 133.6 289.9"/>
<path class="d" d="M85.9 440.7 86.2 438.6 86.5 436.4 86.8 434.2 87.0 432.0 87.3 429.8 87.5 427.6 87.7 425.4 87.9 423.1 88.1 420.8 88.2 418.6 88.4 416.3 88.6 414.0 88.7 411.7 88.9 409.4 89.0 407.1 89.2 404.7 89.4 402.4 89.6 400.1 89.8 397.8 90.0 395.5 90.2 393.2 90.4 390.9 90.7 388.6 91.0 386.3 91.3 384.0 91.6 381.7 92.0 379.4 92.4 377.2 92.8 374.9 93.3 372.7 93.8 370.5 94.3 368.3 94.9 366.1 95.5 363.9 96.2 361.7 96.9 359.6 96.9 359.6"/>
<path class="D" d="M96.9 359.6 97.7 357.5 98.5 355.4 99.3 353.3 100.2 351.3 101.2 349.2 102.2 347.2 103.2 345.2 104.3 343.3 105.4 341.4 106.6 339.5 107.8 337.6 109.1 335.8 110.5 334.0 111.8 332.2 113.3 330.5 114.7 328.8 116.2 327.1 117.8 325.4 119.4 323.8 121.0 322.2 122.6 320.7 124.3 319.2 126.0 317.6 127.8 316.2 129.5 314.7 131.3 313.3 133.1 311.9 134.9 310.5 136.7 309.1 138.6 307.8 140.4 306.5 142.3 305.2 144.2 304.0 146.1 302.7 148.0 301.5 150.0 300.3 151.9 299.1 153.9 298.0 155.9 296.9 157.9 295.8 159.9 294.7 161.9 293.6 163.9 292.6 166.0 291.6 168.0 290.6 169.5 289.9"/>
<path class="d" d="M169.5 289.9 170.1 289.7 172.2 288.7 174.2 287.8 176.3 286.9 178.4 286.0 180.6 285.2 182.7 284.3 184.8 283.5 187.0 282.7 189.1 282.0 191.3 281.2 193.4 280.5 195.6 279.8 197.8 279.1 200.0 278.5 202.2 277.8 204.4 277.2 206.6 276.6 208.8 276.0 211.0 275.5 213.2 274.9 215.5 274.4 217.7 273.9 219.9 273.5 222.2 273.0 224.4 272.6 226.6 272.2 228.9 271.8 231.1 271.4 233.4 271.0 235.6 270.7 237.9 270.4 240.1 270.1 242.4 269.8 244.6 269.6 246.9 269.3 249.1 269.1 251.4 268.9 253.6 268.7 255.9 268.6 258.1 268.4 260.3 268.3 262.6 268.2 264.8 268.1 265.9 268.1"/>
<path class="s" d="M364.6 440.8 364.5 438.6 364.5 436.4 364.5 434.3 364.7 432.2 364.8 430.2 365.0 428.2 365.3 426.2 365.6 424.2 366.0 422.3 366.4 420.4 366.9 418.5 367.4 416.6 367.9 414.8 368.5 412.9 369.0 411.0 369.7 409.2 370.3 407.3 371.0 405.4 371.6 403.5 372.3 401.7 373.0 399.7 373.7 397.8 374.4 395.8 375.2 393.9 375.9 391.9 376.7 389.9 377.4 388.0 378.3 386.0 379.1 384.1 380.0 382.1 380.9 380.3 381.8 378.4 382.8 376.6 383.8 374.8 384.9 373.1 386.1 371.4 387.3 369.8 388.5 368.3 389.8 366.9 391.2 365.5 392.7 364.2 394.2 363.1 395.8 362.0 397.4 361.1 399.1 360.4 400.9 359.9 402.8 359.5 404.7 359.3 406.6 359.3 408.6 359.4 410.6 359.6 412.7 359.9 414.7 360.3 416.8 360.7 418.9 361.1 421.0 361.6 423.1 362.0 425.1 362.4 427.2 362.7 429.3 362.9 431.3 363.1 433.3 363.1 435.3 363.1 437.3 363.0 439.3 362.8 441.2 362.5 443.2 362.2 445.1 361.8 447.1 361.3 449.0 360.8 450.9 360.2 452.8 359.6 454.6 358.9 456.5 358.2 458.4 357.4 460.2 356.6 462.1 355.8 463.9 354.9 465.7 354.0 467.6 353.1 469.4 352.1 471.2 351.1 473.0 350.1 474.8 349.1 476.6 348.1 478.4 347.0 480.1 346.0 481.9 345.0 483.7 343.9 485.5 342.9 487.2 341.8 489.0 340.8 490.8 339.8 492.5 338.8 494.3 337.8 496.0 336.8 497.8 335.8 499.6 334.8 501.3 333.8 503.1 332.8 504.9 331.8 506.6 330.9 508.4 329.9 510.2 328.9 511.9 328.0 513.7 327.1 515.5 326.2 517.3 325.2 519.1 324.3 520.9 323.4 522.7 322.6 524.5 321.7 526.3 320.8 528.1 320.0 529.9 319.1 531.7 318.3 533.6 317.5 535.4 316.7 537.3 315.9 539.1 315.1 541.0 314.3 542.9 313.6 544.8 312.9 546.7 312.1 548.6 311.4 550.5 310.7 552.4 310.1 554.4 309.4 556.3 308.8 558.3 308.1 560.2 307.5 561.2 307.2"/>
<path class="S" d="M393.2 363.8 394.2 363.1 395.8 362.0 397.4 361.1 399.1 360.4 400.9 359.9 402.8 359.5 404.7 359.3 406.6 359.3 408.6 359.4 410.6 359.6 412.7 359.9 414.7 360.3 416.8 360.7 418.9 361.1 421.0 361.6 423.1 362.0 425.1 362.4 427.2 362.7 427.5 362.7"/>
<path class="d" d="M362.9 440.8 362.9 438.7 363.0 436.5 363.0 434.4 363.1 432.3 363.2 430.2 363.4 428.1 363.6 426.0 363.7 423.9 363.9 421.8 364.2 419.7 364.4 417.6 364.6 415.6 364.9 413.5 365.1 411.4 365.4 409.3 365.7 407.3 366.0 405.2 366.3 403.1 366.5 401.0 366.8 398.9 367.1 396.9 367.4 394.8 367.7 392.7 367.9 390.6 368.2 388.5 368.5 386.4 368.8 384.3 369.1 382.2 369.4 380.1 369.8 378.0 370.3 375.9 370.8 373.8 371.3 371.7 372.0 369.6 372.7 367.4 373.5 365.3 374.3 363.2 375.3 361.2 376.5 359.3 377.7 357.8 379.1 356.6 380.7 355.8 382.4 355.5 384.2 355.5 386.1 355.9 388.0 356.5 389.8 357.3 390.8 357.9"/>
<path class="D" d="M390.8 357.9 391.6 358.4 393.4 359.6 395.0 360.9 396.6 362.3 398.1 363.8 399.6 365.3 401.1 366.8 402.7 368.3 404.2 369.8 405.8 371.2 407.4 372.6 409.1 374.0 410.8 375.3 412.5 376.5 414.3 377.8 416.1 379.0 417.9 380.1 419.7 381.2 421.5 382.2 423.4 383.2 425.3 384.2 427.2 385.1 429.2 386.0 431.1 386.8 433.1 387.6 435.1 388.4 437.1 389.0 439.1 389.7 441.2 390.3 443.2 390.8 445.3 391.3 447.3 391.8 449.4 392.2 451.5 392.5 453.6 392.9 455.6 393.1 457.7 393.3 459.8 393.5 461.9 393.6 463.4 393.6"/>
<path class="d" d="M463.4 393.6 464.0 393.6 466.1 393.6 468.2 393.6 470.3 393.5 472.3 393.3 474.4 393.1 476.5 392.9 478.5 392.5 480.6 392.2 482.6 391.7 484.6 391.3 486.6 390.7 488.6 390.2 490.6 389.5 492.5 388.9 494.5 388.1 496.5 387.4 498.4 386.6 500.3 385.7 502.2 384.9 504.2 384.0 506.1 383.1 508.0 382.1 509.9 381.1 511.7 380.1 513.6 379.1 515.5 378.1 517.4 377.0 519.2 376.0 521.1 374.9 523.0 373.8 524.8 372.7 526.7 371.6 528.5 370.5 530.4 369.4 532.2 368.4 534.1 367.3 535.9 366.2 537.8 365.2 539.6 364.1 541.5 363.1 543.3 362.1 545.2 361.1 547.1 360.1 548.9 359.2 550.8 358.2 552.7 357.4 554.5 356.5 556.4 355.7 558.3 354.9 560.2 354.2 561.1 353.8"/>
<path class="s" d="M707.5 440.7 707.6 438.9 707.8 437.0 707.9 435.1 708.1 433.2 708.2 431.3 708.3 429.4 708.4 427.5 708.6 425.5 708.7 423.6 708.8 421.7 708.9 419.7 709.0 417.8 709.1 415.8 709.3 413.8 709.4 411.9 709.5 409.9 709.6 407.9 709.8 406.0 709.9 404.0 710.0 402.0 710.2 400.1 710.4 398.1 710.5 396.1 710.7 394.1 710.9 392.2 711.1 390.2 711.3 388.2 711.6 386.3 711.8 384.3 712.1 382.4 712.3 380.4 712.6 378.5 713.0 376.5 713.3 374.6 713.6 372.6 714.0 370.7 714.4 368.8 714.8 366.9 715.2 365.0 715.7 363.1 716.2 361.2 716.7 359.4 717.2 357.5 717.8 355.6 718.4 353.8 719.0 352.0 719.6 350.1 720.3 348.3 721.0 346.6 721.7 344.8 722.5 343.0 723.3 341.3 724.1 339.5 725.0 337.8 725.9 336.1 726.8 334.4 727.7 332.7 728.7 331.1 729.7 329.4 730.7 327.8 731.8 326.2 732.9 324.6 734.0 323.1 735.2 321.5 736.4 320.0 737.6 318.5 738.9 317.0 740.1 315.5 741.4 314.1 742.8 312.7 744.1 311.3 745.5 309.9 746.9 308.5 748.3 307.2 749.7 305.8 751.2 304.5 752.7 303.2 754.2 302.0 755.7 300.7 757.2 299.5 758.8 298.3 760.3 297.1 761.9 296.0 763.5 294.8 765.1 293.7 766.8 292.6 768.4 291.6 770.1 290.5 771.7 289.5 773.4 288.5 775.1 287.5 776.8 286.6 778.5 285.7 780.3 284.7 782.0 283.9 783.8 283.0 785.6 282.2 787.3 281.4 789.1 280.6 790.9 279.8 792.7 279.1 794.5 278.4 796.4 277.7 798.2 277.0 800.0 276.4 801.9 275.8 803.7 275.2 805.6 274.7 807.5 274.1 809.3 273.6 811.2 273.1 813.1 272.7 815.0 272.3 816.9 271.9 818.8 271.5 820.7 271.1 822.6 270.8 824.5 270.5 826.4 270.2 828.4 270.0 830.3 269.7 832.2 269.5 834.1 269.3 836.1 269.1 838.0 268.9 840.0 268.7 841.9 268.6 843.8 268.5 845.8 268.3 847.7 268.2 849.7 268.1 851.6 268.1 853.6 268.0 855.5 267.9 857.5 267.9 859.5 267.8 861.4 267.8 863.4 267.7 865.3 267.7 867.3 267.7 869.2 267.6 871.2 267.6 873.2 267.6 875.1 267.6 877.1 267.6 879.0 267.5 881.0 267.5 882.9 267.5 884.9 267.5 886.8 267.5 888.8 267.4 890.7 267.4 892.7 267.4 894.6 267.3 896.5 267.3 897.5 267.2"/>
<path class="S" d="M716.6 359.6 716.7 359.4 717.2 357.5 717.8 355.6 718.4 353.8 719.0 352.0 719.6 350.1 720.3 348.3 721.0 346.6 721.7 344.8 722.5 343.0 723.3 341.3 724.1 339.5 725.0 337.8 725.9 336.1 726.8 334.4 727.7 332.7 728.7 331.1 729.7 329.4 730.7 327.8 731.8 326.2 732.9 324.6 734.0 323.1 735.2 321.5 736.4 320.0 737.6 318.5 738.9 317.0 740.1 315.5 741.4 314.1 742.8 312.7 744.1 311.3 745.5 309.9 746.9 308.5 748.3 307.2 749.7 305.8 751.2 304.5 752.7 303.2 754.2 302.0 755.7 300.7 757.2 299.5 758.8 298.3 760.3 297.1 761.9 296.0 763.5 294.8 765.1 293.7 766.8 292.6 768.4 291.6 770.1 290.5 771.1 289.9"/>
<path class="d" d="M706.8 440.8 707.0 438.9 707.1 437.0 707.1 435.1 707.2 433.2 707.3 431.3 707.4 429.3 707.5 427.4 707.6 425.5 707.7 423.5 707.8 421.6 707.9 419.7 708.0 417.7 708.1 415.8 708.2 413.8 708.3 411.8 708.5 409.9 708.6 407.9 708.7 406.0 708.9 404.0 709.0 402.0 709.2 400.1 709.4 398.1 709.6 396.2 709.8 394.2 710.0 392.2 710.2 390.3 710.5 388.3 710.8 386.4 711.0 384.5 711.3 382.5 711.6 380.6 712.0 378.7 712.3 376.7 712.7 374.8 713.1 372.9 713.5 371.0 713.9 369.1 714.4 367.3 714.9 365.4 715.4 363.5 715.9 361.7 716.5 359.8 716.5 359.6"/>
<path class="D" d="M716.5 359.6 717.0 358.0 717.7 356.1 718.3 354.3 719.0 352.5 719.7 350.7 720.4 349.0 721.1 347.2 721.9 345.4 722.7 343.7 723.6 342.0 724.5 340.3 725.4 338.6 726.3 336.9 727.3 335.2 728.2 333.6 729.3 331.9 730.3 330.3 731.4 328.7 732.5 327.1 733.6 325.6 734.7 324.0 735.9 322.5 737.1 321.0 738.3 319.5 739.6 318.0 740.8 316.5 742.1 315.1 743.4 313.6 744.8 312.2 746.1 310.8 747.5 309.5 748.9 308.1 750.3 306.8 751.7 305.5 753.2 304.2 754.7 302.9 756.2 301.7 757.7 300.5 759.2 299.3 760.8 298.1 762.3 296.9 763.9 295.8 765.5 294.7 767.1 293.6 768.8 292.6 770.4 291.5 772.1 290.5 773.0 289.9"/>
<path class="d" d="M773.0 289.9 773.8 289.5 775.4 288.5 777.1 287.6 778.9 286.6 780.6 285.7 782.3 284.8 784.1 284.0 785.8 283.2 787.6 282.3 789.4 281.6 791.2 280.8 793.0 280.1 794.8 279.3 796.6 278.6 798.5 278.0 800.3 277.3 802.2 276.7 804.0 276.1 805.9 275.6 807.7 275.0 809.6 274.5 811.5 274.0 813.4 273.5 815.3 273.1 817.2 272.7 819.1 272.3 821.0 271.9 822.9 271.5 824.8 271.2 826.7 270.9 828.6 270.6 830.5 270.3 832.4 270.1 834.4 269.8 836.3 269.6 838.2 269.4 840.2 269.2 842.1 269.0 844.0 268.9 846.0 268.7 847.9 268.6 849.9 268.5 851.8 268.4 853.7 268.3 855.7 268.2 857.6 268.1 859.6 268.1 861.5 268.0 863.5 267.9 865.4 267.9 867.4 267.9 869.3 267.8 871.3 267.8 873.2 267.8 875.2 267.8 877.1 267.8 879.1 267.8 881.0 267.7 883.0 267.7 884.9 267.7 886.9 267.7 888.8 267.7 890.7 267.7 892.7 267.7 894.6 267.7 896.5 267.7 897.5 267.7"/>
<path class="s" d="M987.8 440.8 987.8 439.0 987.8 437.1 987.8 435.3 987.8 433.5 987.9 431.7 987.9 429.9 988.0 428.0 988.0 426.2 988.1 424.4 988.2 422.6 988.3 420.8 988.4 419.0 988.5 417.2 988.6 415.4 988.7 413.6 988.9 411.8 989.0 410.0 989.2 408.2 989.3 406.4 989.5 404.6 989.6 402.8 989.8 401.0 990.0 399.2 990.2 397.4 990.3 395.6 990.5 393.8 990.7 392.0 990.9 390.2 991.1 388.4 991.3 386.6 991.5 384.8 991.8 383.0 992.0 381.2 992.2 379.5 992.4 377.7 992.6 375.9 992.8 374.1 993.1 372.3 993.3 370.5 993.5 368.7 993.7 366.9 994.0 365.1 994.3 363.3 994.6 361.5 994.9 359.6 995.3 357.8 995.8 356.0 996.2 354.1 996.8 352.2 997.4 350.3 998.0 348.5 998.8 346.6 999.6 344.9 1000.5 343.4 1001.5 342.0 1002.5 340.9 1003.7 340.1 1005.0 339.6 1006.3 339.5 1007.6 339.7 1009.0 340.2 1010.4 340.9 1011.8 342.0 1013.2 343.2 1014.6 344.6 1015.9 346.0 1017.2 347.5 1018.5 349.0 1019.7 350.5 1021.0 352.0 1022.1 353.4 1023.3 354.8 1024.4 356.2 1025.6 357.6 1026.7 358.9 1027.9 360.2 1029.1 361.5 1030.3 362.8 1031.5 364.1 1032.8 365.3 1034.2 366.5 1035.5 367.7 1036.9 368.9 1038.4 370.0 1039.9 371.1 1041.4 372.1 1043.0 373.1 1044.6 374.1 1046.2 375.0 1047.9 375.9 1049.6 376.7 1051.3 377.4 1053.0 378.1 1054.7 378.7 1056.5 379.3 1058.2 379.8 1060.0 380.2 1061.8 380.6 1063.6 380.9 1065.3 381.0 1067.1 381.1 1068.9 381.2 1070.7 381.1 1072.4 381.0 1074.2 380.8 1075.9 380.5 1077.7 380.2 1079.4 379.8 1081.2 379.3 1082.9 378.8 1084.6 378.2 1086.3 377.6 1088.0 376.9 1089.7 376.2 1091.3 375.5 1093.0 374.7 1094.6 373.9 1096.2 373.1 1097.8 372.3 1099.4 371.4 1101.0 370.5 1102.6 369.6 1104.1 368.6 1105.7 367.7 1107.2 366.7 1108.7 365.7 1110.2 364.7 1111.7 363.7 1113.2 362.7 1114.7 361.7 1116.2 360.7 1117.7 359.6 1119.2 358.6 1120.7 357.5 1122.2 356.4 1123.6 355.4 1125.1 354.3 1126.6 353.3 1128.1 352.2 1129.5 351.2 1131.0 350.1 1132.5 349.1 1134.0 348.0 1135.5 347.0 1137.0 346.0 1138.5 345.0 1140.0 344.0 1141.5 343.0 1143.1 342.1 1144.6 341.2 1146.2 340.2 1147.8 339.3 1149.3 338.5 1150.9 337.6 1152.5 336.8 1154.2 335.9 1155.8 335.2 1157.4 334.4 1159.1 333.6 1160.8 332.9 1162.4 332.1 1164.1 331.4 1165.8 330.7 1167.5 330.0 1169.1 329.3 1170.8 328.6 1172.5 327.9 1174.2 327.3 1175.9 326.6 1177.6 325.9 1179.3 325.2 1181.0 324.5 1182.6 323.8 1184.3 323.1 1186.0 322.4 1187.6 321.7 1189.3 321.0 1190.9 320.3 1192.6 319.5 1193.4 319.2"/>
<path class="S" d="M1012.7 342.8 1013.2 343.2 1014.6 344.6 1015.9 346.0 1017.2 347.5 1018.5 349.0 1019.7 350.5 1021.0 352.0 1022.1 353.4 1023.3 354.8 1024.4 356.2 1025.6 357.6 1026.7 358.9 1027.9 360.2 1029.1 361.5 1030.3 362.8 1031.5 364.1 1032.8 365.3 1034.2 366.5 1035.5 367.7 1036.9 368.9 1038.4 370.0 1039.9 371.1 1041.4 372.1 1043.0 373.1 1044.6 374.1 1046.2 375.0 1047.9 375.9 1049.6 376.7 1051.3 377.4 1053.0 378.1 1054.7 378.7 1056.5 379.3 1058.2 379.8 1060.0 380.2 1061.8 380.6 1063.6 380.9 1065.3 381.0 1067.1 381.1 1067.2 381.2"/>
<path class="d" d="M987.2 440.8 987.2 438.9 987.2 437.1 987.2 435.2 987.2 433.3 987.3 431.5 987.3 429.6 987.4 427.8 987.5 425.9 987.5 424.1 987.6 422.2 987.8 420.4 987.9 418.6 988.0 416.7 988.2 414.9 988.3 413.0 988.5 411.2 988.6 409.4 988.8 407.6 989.0 405.7 989.2 403.9 989.3 402.1 989.5 400.2 989.7 398.4 989.9 396.6 990.1 394.7 990.3 392.9 990.5 391.1 990.7 389.3 990.9 387.4 991.1 385.6 991.3 383.7 991.5 381.9 991.7 380.1 991.9 378.2 992.1 376.4 992.3 374.5 992.5 372.6 992.7 370.8 992.9 368.9 993.1 367.1 993.3 365.2 993.5 363.4 993.7 361.5 993.9 359.7 994.2 357.8 994.5 356.0 994.8 354.2 995.2 352.3 995.6 350.5 996.0 348.7 996.5 347.0 997.0 345.2 997.6 343.5 998.2 341.7 998.9 340.0 999.7 338.3 1000.5 336.7 1001.5 335.2 1002.7 334.2 1004.3 334.1 1006.0 334.6 1007.6 335.4 1009.0 336.5 1010.4 337.7 1011.6 339.1 1012.6 340.4"/>
<path class="D" d="M1012.6 340.4 1012.8 340.6 1013.9 342.1 1015.0 343.7 1016.1 345.3 1017.2 346.9 1018.2 348.4 1019.3 350.0 1020.4 351.6 1021.4 353.1 1022.5 354.7 1023.6 356.2 1024.7 357.6 1025.9 359.1 1027.1 360.5 1028.3 361.9 1029.6 363.2 1030.9 364.5 1032.3 365.8 1033.7 367.0 1035.1 368.2 1036.6 369.3 1038.1 370.4 1039.6 371.4 1041.2 372.4 1042.8 373.4 1044.4 374.2 1046.1 375.1 1047.8 375.9 1049.5 376.6 1051.2 377.3 1052.9 377.9 1054.7 378.5 1056.4 379.0 1058.2 379.5 1060.0 379.9 1061.8 380.3 1063.6 380.6 1065.4 380.9 1067.2 381.0 1069.0 381.2 1069.1 381.2"/>
<path class="d" d="M1069.1 381.2 1070.8 381.2 1072.6 381.3 1074.4 381.2 1076.2 381.1 1078.0 380.9 1079.8 380.7 1081.6 380.4 1083.3 380.0 1085.0 379.6 1086.8 379.1 1088.5 378.5 1090.2 377.9 1091.8 377.2 1093.5 376.4 1095.1 375.7 1096.7 374.8 1098.4 373.9 1100.0 373.0 1101.6 372.0 1103.1 371.0 1104.7 370.0 1106.3 368.9 1107.8 367.9 1109.4 366.7 1110.9 365.6 1112.5 364.5 1114.0 363.3 1115.5 362.1 1117.0 361.0 1118.6 359.8 1120.1 358.6 1121.6 357.4 1123.1 356.2 1124.7 355.1 1126.2 353.9 1127.7 352.8 1129.2 351.7 1130.8 350.6 1132.3 349.5 1133.9 348.5 1135.4 347.5 1137.0 346.5 1138.5 345.5 1140.1 344.6 1141.7 343.7 1143.3 342.9 1144.9 342.0 1146.5 341.2 1148.1 340.4 1149.7 339.7 1151.3 338.9 1152.9 338.2 1154.6 337.4 1156.2 336.7 1157.9 335.9 1159.5 335.2 1161.2 334.5 1162.8 333.8 1164.5 333.0 1166.2 332.3 1167.8 331.5 1169.5 330.7 1171.2 330.0 1172.9 329.2 1174.6 328.3 1176.3 327.5 1178.0 326.6 1179.7 325.7 1180.6 325.3"/>
<path class="s" d="M91.5 682.4 91.7 680.2 91.9 677.9 92.1 675.7 92.3 673.5 92.5 671.3 92.7 669.1 92.8 666.9 93.0 664.7 93.2 662.5 93.4 660.3 93.5 658.1 93.7 655.9 93.9 653.7 94.0 651.5 94.2 649.3 94.4 647.1 94.5 644.9 94.7 642.7 94.8 640.5 95.0 638.3 95.2 636.1 95.3 633.9 95.5 631.7 95.6 629.5 95.8 627.3 95.9 625.1 96.1 622.9 96.2 620.7 96.4 618.5 96.5 616.3 96.7 614.0 96.8 611.8 97.0 609.6 97.1 607.3 97.3 605.1 97.5 602.9 97.7 600.6 98.0 598.4 98.2 596.2 98.5 594.0 98.8 591.7 99.1 589.5 99.4 587.3 99.8 585.1 100.2 582.9 100.7 580.7 101.1 578.5 101.6 576.3 102.2 574.2 102.8 572.0 103.4 569.8 104.1 567.7 104.8 565.6 105.6 563.5 106.4 561.4 107.2 559.3 108.1 557.3 109.1 555.3 110.1 553.3 111.1 551.3 112.2 549.4 113.3 547.5 114.5 545.7 115.7 543.9 117.0 542.1 118.3 540.4 119.6 538.7 121.1 537.1 122.5 535.5 124.0 534.0 125.6 532.5 127.2 531.1 128.9 529.7 130.6 528.4 132.3 527.2 134.1 526.0 136.0 524.8 137.8 523.7 139.8 522.7 141.7 521.7 143.7 520.8 145.7 519.9 147.7 519.0 149.8 518.2 151.9 517.5 154.0 516.7 156.2 516.1 158.3 515.4 160.5 514.8 162.7 514.3 164.9 513.8 167.1 513.3 169.3 512.8 171.6 512.4 173.8 512.0 176.0 511.7 178.3 511.4 180.5 511.1 182.8 510.8 185.0 510.6 187.2 510.4 189.5 510.2 191.7 510.0 193.9 509.9 196.1 509.7 198.4 509.6 200.6 509.6 202.8 509.5 205.0 509.4 207.2 509.4 209.4 509.4 211.6 509.4 213.9 509.3 216.1 509.4 218.3 509.4 220.5 509.4 222.7 509.4 224.9 509.4 227.1 509.5 229.3 509.5 231.5 509.5 233.7 509.5 235.9 509.6 238.1 509.6 240.3 509.6 242.5 509.6 244.8 509.6 247.0 509.6 249.2 509.6 251.4 509.5 253.6 509.5 255.8 509.4 258.0 509.3 260.2 509.2 262.4 509.1 264.7 509.0 266.9 508.8 268.0 508.7"/>
<path class="S" d="M97.7 601.2 97.7 600.6 98.0 598.4 98.2 596.2 98.5 594.0 98.8 591.7 99.1 589.5 99.4 587.3 99.8 585.1 100.2 582.9 100.7 580.7 101.1 578.5 101.6 576.3 102.2 574.2 102.8 572.0 103.4 569.8 104.1 567.7 104.8 565.6 105.6 563.5 106.4 561.4 107.2 559.3 108.1 557.3 109.1 555.3 110.1 553.3 111.1 551.3 112.2 549.4 113.3 547.5 114.5 545.7 115.7 543.9 117.0 542.1 118.3 540.4 119.6 538.7 121.1 537.1 122.5 535.5 124.0 534.0 125.6 532.5 126.7 531.5"/>
<path class="d" d="M77.1 682.4 77.2 680.1 77.3 677.8 77.4 675.5 77.5 673.2 77.6 670.9 77.8 668.5 77.9 666.2 78.0 663.9 78.2 661.5 78.3 659.2 78.5 656.8 78.7 654.4 78.9 652.1 79.1 649.7 79.3 647.4 79.6 645.0 79.8 642.7 80.1 640.3 80.4 638.0 80.8 635.6 81.1 633.3 81.5 631.0 81.9 628.7 82.4 626.4 82.9 624.1 83.4 621.8 83.9 619.5 84.5 617.2 85.1 615.0 85.7 612.8 86.4 610.5 87.1 608.3 87.8 606.2 88.6 604.0 89.5 601.8 89.8 601.2"/>
<path class="D" d="M89.8 601.2 90.4 599.7 91.3 597.6 92.3 595.5 93.3 593.5 94.3 591.4 95.4 589.4 96.6 587.4 97.7 585.4 99.0 583.5 100.2 581.5 101.5 579.6 102.9 577.7 104.2 575.9 105.6 574.0 107.1 572.2 108.5 570.4 110.0 568.6 111.6 566.9 113.2 565.1 114.7 563.4 116.4 561.7 118.0 560.1 119.7 558.4 121.4 556.8 123.1 555.2 124.9 553.7 126.7 552.1 128.5 550.6 130.3 549.1 132.1 547.7 134.0 546.2 135.9 544.8 137.8 543.4 139.7 542.0 141.6 540.7 143.5 539.4 145.5 538.1 147.5 536.8 149.5 535.6 151.5 534.3 153.5 533.2 155.6 532.0 156.4 531.5"/>
<path class="d" d="M156.4 531.5 157.6 530.9 159.7 529.8 161.8 528.7 163.9 527.6 166.0 526.6 168.1 525.6 170.2 524.7 172.4 523.7 174.5 522.8 176.7 522.0 178.8 521.1 181.0 520.3 183.2 519.5 185.4 518.8 187.7 518.1 189.9 517.4 192.1 516.7 194.3 516.1 196.6 515.5 198.8 515.0 201.1 514.5 203.4 514.0 205.7 513.5 207.9 513.1 210.2 512.6 212.5 512.3 214.8 511.9 217.1 511.6 219.4 511.3 221.7 511.0 224.1 510.7 226.4 510.5 228.7 510.3 231.0 510.1 233.4 509.9 235.7 509.8 238.1 509.6 240.4 509.5 242.7 509.4 245.1 509.4 247.4 509.3 249.8 509.3 252.1 509.3 254.5 509.2 256.8 509.3 259.1 509.3 261.5 509.3 263.8 509.4 265.0 509.4"/>
<path class="s" d="M364.1 682.4 364.4 680.4 364.7 678.4 365.1 676.5 365.4 674.5 365.8 672.7 366.2 670.8 366.7 669.0 367.1 667.1 367.6 665.3 368.1 663.5 368.6 661.8 369.1 660.0 369.7 658.2 370.2 656.4 370.8 654.6 371.4 652.8 372.0 651.0 372.6 649.2 373.2 647.3 373.9 645.4 374.5 643.6 375.2 641.7 375.9 639.8 376.6 637.9 377.4 636.0 378.1 634.2 378.9 632.3 379.8 630.5 380.7 628.8 381.6 627.0 382.6 625.3 383.6 623.7 384.7 622.1 385.8 620.6 387.0 619.1 388.2 617.7 389.5 616.4 390.9 615.1 392.3 614.0 393.8 612.9 395.4 612.0 397.0 611.2 398.7 610.6 400.4 610.0 402.2 609.7 404.1 609.4 406.0 609.3 408.0 609.4 410.0 609.5 412.0 609.6 414.1 609.7 416.1 609.8 418.1 609.9 420.1 609.9 422.0 609.8 423.9 609.6 425.8 609.4 427.7 609.1 429.5 608.7 431.4 608.2 433.2 607.7 434.9 607.1 436.7 606.5 438.4 605.8 440.1 605.1 441.8 604.3 443.5 603.5 445.2 602.6 446.8 601.7 448.5 600.7 450.1 599.7 451.7 598.7 453.3 597.7 454.9 596.6 456.5 595.5 458.1 594.3 459.7 593.2 461.2 592.0 462.8 590.8 464.4 589.7 465.9 588.5 467.5 587.2 469.0 586.0 470.6 584.8 472.1 583.6 473.7 582.4 475.3 581.2 476.8 580.0 478.4 578.9 480.0 577.7 481.6 576.6 483.2 575.5 484.8 574.4 486.4 573.3 488.1 572.2 489.7 571.2 491.3 570.2 493.0 569.2 494.7 568.2 496.3 567.3 498.0 566.3 499.7 565.4 501.4 564.5 503.1 563.6 504.8 562.8 506.5 561.9 508.3 561.1 510.0 560.2 511.7 559.4 513.5 558.6 515.2 557.8 517.0 557.1 518.7 556.3 520.5 555.5 522.2 554.8 524.0 554.1 525.8 553.3 527.6 552.6 529.4 551.9 531.1 551.2 532.9 550.5 534.7 549.8 536.5 549.1 538.3 548.4 540.1 547.7 541.9 547.0 543.7 546.4 545.6 545.7 547.4 545.0 549.2 544.3 551.0 543.7 552.8 543.0 554.6 542.3 556.4 541.6 558.3 541.0 560.1 540.3 561.9 539.6 562.8 539.3"/>
<path class="S" d="M391.5 614.6 392.3 614.0 393.8 612.9 395.4 612.0 397.0 611.2 398.7 610.6 400.4 610.0 402.2 609.7 404.1 609.4 406.0 609.3 408.0 609.4 410.0 609.5 412.0 609.6 414.1 609.7 416.1 609.8 418.1 609.9 420.1 609.9 420.5 609.9"/>
<path class="d" d="M355.0 682.4 355.1 680.1 355.3 677.8 355.4 675.6 355.5 673.3 355.7 671.1 355.7 668.9 355.8 666.7 355.9 664.5 356.0 662.3 356.1 660.1 356.1 657.9 356.2 655.7 356.3 653.6 356.3 651.4 356.4 649.3 356.4 647.1 356.5 645.0 356.6 642.8 356.6 640.7 356.7 638.6 356.8 636.4 356.9 634.3 357.0 632.1 357.1 630.0 357.2 627.8 357.3 625.6 357.4 623.5 357.6 621.3 357.8 619.1 357.9 616.9 358.1 614.7 358.4 612.5 358.6 610.3 358.9 608.0 359.1 605.8 359.4 603.5 359.8 601.2 360.1 598.9 360.5 596.6 360.9 594.2 361.3 591.9 361.6 590.7 361.8 589.5 362.0 588.3 362.6 586.0 363.3 583.9 364.1 582.0 365.1 580.4 366.4 579.1 367.8 578.2 369.5 577.9 371.2 578.2 372.9 579.2 374.5 580.7 376.1 582.5 376.8 583.5 377.6 584.5 378.2 585.5 379.6 587.5 380.8 589.3 381.9 591.0 383.0 592.8 383.6 593.6"/>
<path class="D" d="M383.6 593.6 384.1 594.5 385.3 596.4 386.4 598.2 387.6 600.1 388.7 602.0 389.9 603.9 391.1 605.8 392.4 607.7 393.7 609.6 395.0 611.4 396.3 613.3 397.7 615.1 399.1 616.9 400.6 618.6 402.1 620.2 403.7 621.8 405.3 623.3 406.9 624.8 408.7 626.1 410.4 627.4 412.2 628.6 414.1 629.7 416.0 630.8 418.0 631.7 419.9 632.6 421.9 633.4 424.0 634.2 426.1 634.8 428.2 635.4 430.3 635.9 432.4 636.3 434.6 636.7 436.7 637.0 438.9 637.2 441.1 637.3 443.3 637.4 445.5 637.4 447.7 637.3 449.9 637.2 450.2 637.1"/>
<path class="d" d="M450.2 637.1 452.1 637.0 454.3 636.7 456.5 636.3 458.6 635.9 460.8 635.4 462.9 634.9 465.0 634.3 467.1 633.6 469.1 632.9 471.2 632.1 473.2 631.2 475.2 630.3 477.2 629.3 479.1 628.3 481.0 627.3 482.9 626.2 484.8 625.0 486.7 623.9 488.6 622.7 490.5 621.5 492.3 620.2 494.1 619.0 496.0 617.7 497.8 616.4 499.6 615.1 501.4 613.8 503.3 612.5 505.1 611.2 506.9 609.8 508.7 608.5 510.5 607.3 512.3 606.0 514.1 604.7 516.0 603.5 517.8 602.3 519.6 601.1 521.5 599.9 523.3 598.8 525.2 597.6 527.1 596.5 528.9 595.4 530.8 594.3 532.7 593.3 534.6 592.2 536.5 591.2 538.5 590.1 540.4 589.1 542.3 588.1 544.3 587.1 546.2 586.1 548.2 585.2 550.2 584.2 552.1 583.2 554.1 582.2 556.1 581.3 558.2 580.3 560.2 579.4 561.2 578.9"/>
<path class="s" d="M744.9 682.4 744.9 680.9 745.0 679.4 745.0 677.9 745.1 676.4 745.2 674.9 745.2 673.4 745.3 671.9 745.4 670.4 745.5 668.9 745.7 667.3 745.8 665.8 745.9 664.3 746.1 662.8 746.2 661.2 746.4 659.7 746.6 658.2 746.8 656.7 747.0 655.2 747.3 653.6 747.5 652.1 747.7 650.6 748.0 649.1 748.3 647.6 748.6 646.1 748.9 644.6 749.2 643.1 749.6 641.6 749.9 640.1 750.3 638.7 750.7 637.2 751.1 635.7 751.5 634.3 751.9 632.8 752.4 631.4 752.9 629.9 753.4 628.5 753.9 627.1 754.4 625.7 754.9 624.3 755.5 622.9 756.1 621.5 756.7 620.1 757.3 618.7 758.0 617.4 758.6 616.0 759.3 614.7 760.0 613.4 760.7 612.1 761.4 610.8 762.2 609.5 763.0 608.2 763.7 606.9 764.6 605.7 765.4 604.4 766.2 603.2 767.1 602.0 767.9 600.7 768.8 599.5 769.7 598.3 770.6 597.2 771.6 596.0 772.5 594.8 773.5 593.7 774.4 592.5 775.4 591.4 776.4 590.3 777.4 589.2 778.4 588.1 779.5 587.0 780.5 585.9 781.6 584.8 782.6 583.8 783.7 582.7 784.8 581.7 785.9 580.6 787.0 579.6 788.1 578.6 789.2 577.6 790.4 576.6 791.5 575.6 792.7 574.6 793.8 573.6 795.0 572.7 796.2 571.7 797.4 570.7 798.6 569.8 799.8 568.9 801.0 567.9 802.2 567.0 803.4 566.1 804.6 565.2 805.8 564.2 807.1 563.3 808.3 562.4 809.5 561.5 810.8 560.6 812.0 559.8 813.3 558.9 814.5 558.0 815.8 557.1 817.0 556.2 818.3 555.4 819.6 554.5 820.8 553.6 822.1 552.8 823.4 551.9 824.6 551.1 825.9 550.2 827.2 549.4 828.4 548.5 829.7 547.7 831.0 546.8 832.2 546.0 833.5 545.1 834.8 544.3 836.0 543.4 837.3 542.6 838.6 541.8 839.8 540.9 841.1 540.1 842.4 539.3 843.6 538.5 844.9 537.7 846.2 536.9 847.4 536.1 848.7 535.3 850.0 534.5 851.3 533.7 852.6 532.9 853.9 532.2 855.2 531.4 856.5 530.7 857.8 529.9 859.1 529.2 860.4 528.5 861.7 527.8 863.0 527.1 864.3 526.4 865.7 525.7 867.0 525.1 868.4 524.4 869.7 523.8 871.1 523.2 872.4 522.6 873.8 522.0 875.2 521.4 876.6 520.8 878.0 520.3 879.4 519.7 880.8 519.2 882.2 518.7 883.6 518.2 885.1 517.8 886.5 517.3 888.0 516.9 889.4 516.5 890.9 516.1 892.4 515.7 893.9 515.4 895.4 515.0 896.9 514.7 897.7 514.6"/>
<path class="S" d="M767.6 601.2 767.9 600.7 768.8 599.5 769.7 598.3 770.6 597.2 771.6 596.0 772.5 594.8 773.5 593.7 774.4 592.5 775.4 591.4 776.4 590.3 777.4 589.2 778.4 588.1 779.5 587.0 780.5 585.9 781.6 584.8 782.6 583.8 783.7 582.7 784.8 581.7 785.9 580.6 787.0 579.6 788.1 578.6 789.2 577.6 790.4 576.6 791.5 575.6 792.7 574.6 793.8 573.6 795.0 572.7 796.2 571.7 797.4 570.7 798.6 569.8 799.8 568.9 801.0 567.9 802.2 567.0 803.4 566.1 804.6 565.2 805.8 564.2 807.1 563.3 808.3 562.4 809.5 561.5 810.8 560.6 812.0 559.8 813.3 558.9 814.5 558.0 815.8 557.1 817.0 556.2 818.3 555.4 819.6 554.5 820.8 553.6 822.1 552.8 823.4 551.9 824.6 551.1 825.9 550.2 827.2 549.4 828.4 548.5 829.7 547.7 831.0 546.8 832.2 546.0 833.5 545.1 834.8 544.3 836.0 543.4 837.3 542.6 838.6 541.8 839.8 540.9 841.1 540.1 842.4 539.3 843.6 538.5 844.9 537.7 846.2 536.9 847.4 536.1 848.7 535.3 850.0 534.5 851.3 533.7 852.6 532.9 853.9 532.2 855.0 531.5"/>
<path class="d" d="M713.9 682.4 714.3 680.4 714.8 678.5 715.3 676.6 715.9 674.7 716.5 672.9 717.1 671.1 717.8 669.3 718.5 667.5 719.2 665.7 720.0 664.0 720.8 662.3 721.6 660.6 722.4 658.9 723.3 657.3 724.2 655.6 725.2 654.0 726.1 652.5 727.1 650.9 728.2 649.3 729.2 647.8 730.3 646.3 731.4 644.8 732.5 643.3 733.6 641.9 734.8 640.4 736.0 639.0 737.2 637.6 738.4 636.2 739.6 634.8 740.9 633.4 742.2 632.1 743.5 630.7 744.8 629.4 746.2 628.1 747.5 626.8 748.9 625.5 750.3 624.2 751.7 622.9 753.1 621.7 754.5 620.4 755.9 619.2 757.4 618.0 758.8 616.7 760.3 615.5 761.8 614.3 763.3 613.1 764.8 611.9 766.3 610.7 767.8 609.6 769.3 608.4 770.8 607.2 772.4 606.1 773.9 604.9 775.4 603.8 777.0 602.6 778.5 601.5 779.0 601.2"/>
<path class="D" d="M779.0 601.2 780.1 600.3 781.6 599.2 783.2 598.1 784.7 596.9 786.3 595.8 787.9 594.7 789.4 593.5 791.0 592.4 792.5 591.3 794.0 590.1 795.6 589.0 797.1 587.9 798.7 586.7 800.2 585.6 801.7 584.5 803.3 583.3 804.8 582.2 806.3 581.1 807.8 579.9 809.4 578.8 810.9 577.7 812.4 576.6 814.0 575.4 815.5 574.3 817.0 573.2 818.5 572.1 820.1 571.0 821.6 569.8 823.1 568.7 824.6 567.6 826.2 566.5 827.7 565.4 829.2 564.3 830.8 563.2 832.3 562.1 833.8 561.0 835.4 559.9 836.9 558.9 838.5 557.8 840.0 556.7 841.5 555.6 843.1 554.6 844.6 553.5 846.2 552.4 847.8 551.4 849.3 550.3 850.9 549.3 852.5 548.2 854.0 547.2 855.6 546.2 857.2 545.2 858.8 544.1 860.4 543.1 862.0 542.1 863.6 541.1 865.2 540.1 866.8 539.1 868.4 538.1 870.0 537.2 871.6 536.2 873.3 535.2 874.9 534.3 876.5 533.3 878.2 532.4 879.7 531.5"/>
<path class="d" d="M879.7 531.5 879.8 531.5 881.5 530.5 883.2 529.6 884.9 528.7 886.5 527.8 888.2 526.9 889.9 526.0 891.6 525.1 893.3 524.3 895.1 523.4 896.8 522.5 897.7 522.1"/>
<path class="s" d="M1016.7 682.5 1017.4 681.2 1018.0 679.9 1018.7 678.5 1019.4 677.2 1020.2 675.9 1021.0 674.6 1021.8 673.3 1022.7 672.1 1023.6 670.8 1024.5 669.6 1025.5 668.4 1026.5 667.2 1027.5 666.1 1028.5 665.0 1029.6 663.9 1030.7 662.9 1031.8 661.9 1032.9 661.0 1034.1 660.1 1035.3 659.3 1036.5 658.5 1037.7 657.8 1039.0 657.2 1040.2 656.6 1041.5 656.1 1042.8 655.7 1044.1 655.4 1045.5 655.1 1046.8 654.9 1048.2 654.8 1049.6 654.9 1050.9 654.9 1052.3 655.1 1053.7 655.3 1055.2 655.6 1056.6 655.9 1058.0 656.3 1059.4 656.7 1060.9 657.2 1062.3 657.7 1063.8 658.1 1065.2 658.6 1066.7 659.1 1068.1 659.6 1069.6 660.1 1071.0 660.6 1072.5 661.0 1073.9 661.5 1075.4 661.9 1076.8 662.2 1078.3 662.6 1079.7 663.0 1081.1 663.3 1082.6 663.6 1084.0 663.9 1085.5 664.2 1086.9 664.5 1088.4 664.8 1089.8 665.0 1091.3 665.3 1092.7 665.5 1094.2 665.7 1095.6 665.9 1097.1 666.1 1098.5 666.3 1100.0 666.4 1101.5 666.6 1102.9 666.7 1104.4 666.8 1105.9 666.9 1107.3 667.0 1108.8 667.1 1110.3 667.2 1111.7 667.3 1113.2 667.3 1114.7 667.3 1116.2 667.4 1117.6 667.4 1119.1 667.4 1120.6 667.4 1122.1 667.3 1123.5 667.3 1125.0 667.2 1126.5 667.2 1127.9 667.1 1129.4 667.0 1130.9 666.9 1132.4 666.8 1133.8 666.7 1135.3 666.5 1136.8 666.4 1138.2 666.2 1139.7 666.0 1141.2 665.8 1142.6 665.6 1144.1 665.4 1145.5 665.2 1147.0 665.0 1148.5 664.7 1149.9 664.4 1151.4 664.2 1152.8 663.9 1154.3 663.6 1155.7 663.3 1157.1 662.9 1158.6 662.6 1160.0 662.3 1161.4 661.9 1162.9 661.5 1164.3 661.1 1165.7 660.7 1167.1 660.3 1168.6 659.9 1170.0 659.5 1171.4 659.0 1172.8 658.6 1174.2 658.1 1175.6 657.6 1177.0 657.1 1178.4 656.6 1179.7 656.1 1181.1 655.6 1182.5 655.0 1183.9 654.5 1185.2 653.9 1186.6 653.3 1187.9 652.7 1189.3 652.1 1190.6 651.5 1192.0 650.9 1193.3 650.3 1194.0 649.9"/>
<path class="S" d="M1048.0 654.9 1048.2 654.8 1049.6 654.9 1050.9 654.9 1052.3 655.1 1053.7 655.3 1055.2 655.6 1056.6 655.9 1058.0 656.3 1059.4 656.7 1060.9 657.2 1062.3 657.7 1063.8 658.1 1065.2 658.6 1066.7 659.1 1068.1 659.6 1069.6 660.1 1071.0 660.6 1072.5 661.0 1073.9 661.5 1075.4 661.9 1076.8 662.2 1078.3 662.6 1079.7 663.0 1081.1 663.3 1082.6 663.6 1084.0 663.9 1085.5 664.2 1086.9 664.5 1088.4 664.8 1089.8 665.0 1091.3 665.3 1092.7 665.5 1094.2 665.7 1095.6 665.9 1097.1 666.1 1098.5 666.3 1100.0 666.4 1101.5 666.6 1102.9 666.7 1104.4 666.8 1105.9 666.9 1107.3 667.0 1108.8 667.1 1110.3 667.2 1111.7 667.3 1113.2 667.3 1114.7 667.3 1116.2 667.4 1117.6 667.4 1119.1 667.4 1120.6 667.4 1122.1 667.3 1123.5 667.3 1125.0 667.2 1126.5 667.2 1127.9 667.1 1129.4 667.0 1130.9 666.9 1132.4 666.8 1133.8 666.7 1135.3 666.5 1136.8 666.4 1138.2 666.2 1139.7 666.0 1141.2 665.8 1142.6 665.6 1144.1 665.4 1145.5 665.2 1147.0 665.0 1148.5 664.7 1149.9 664.4 1151.4 664.2 1152.0 664.0"/>
<path class="d" d="M986.8 682.4 986.9 680.7 986.9 679.0 987.0 677.3 987.0 675.6 987.1 673.9 987.1 672.2 987.2 670.5 987.3 668.8 987.3 667.1 987.4 665.4 987.5 663.8 987.5 662.1 987.6 660.4 987.7 658.8 987.8 657.1 987.8 655.5 987.9 653.8 988.0 652.1 988.1 650.5 988.2 648.8 988.3 647.2 988.4 645.5 988.5 643.9 988.6 642.2 988.7 640.5 988.8 638.9 988.9 637.2 989.1 635.6 989.2 633.9 989.3 632.2 989.4 630.6 989.6 628.9 989.7 627.2 989.8 625.5 990.0 623.9 990.1 622.2 990.3 620.5 990.4 618.8 990.6 617.1 990.7 615.4 990.9 613.7 991.0 611.9 991.2 610.2 991.4 608.5 991.6 606.8 991.8 605.0 992.1 603.3 992.4 601.5 992.8 599.8 993.4 598.0 994.1 596.3 994.9 594.7 995.9 593.5 997.3 593.0 998.8 593.9 999.8 594.9 1000.8 596.2 1001.7 597.5 1002.7 598.8 1003.6 600.1 1004.5 601.4 1005.5 602.8 1006.4 604.2 1007.3 605.6 1008.2 607.0 1009.1 608.5 1010.0 609.9 1010.8 611.4 1011.7 612.8 1012.6 614.3 1013.5 615.7 1014.4 617.2 1015.3 618.7 1016.2 620.1 1017.2 621.6 1018.1 623.0 1019.0 624.5 1020.0 625.9 1020.9 627.3 1021.9 628.7 1022.9 630.1 1023.9 631.4 1025.0 632.8 1026.0 634.1 1027.1 635.4 1028.2 636.6 1029.3 637.9 1030.5 639.1 1031.7 640.2 1032.9 641.4 1034.1 642.5 1035.3 643.6 1036.6 644.6 1037.9 645.6 1039.2 646.6 1040.5 647.6 1041.9 648.6 1043.2 649.5 1044.6 650.4 1046.0 651.2 1047.4 652.1 1048.9 652.9 1050.3 653.7 1051.8 654.5 1053.3 655.2 1054.8 655.9 1056.0 656.5"/>
<path class="D" d="M1056.0 656.5 1056.3 656.6 1057.8 657.3 1059.4 658.0 1060.9 658.6 1062.5 659.3 1064.1 659.9 1065.7 660.4 1067.2 661.0 1068.8 661.6 1070.5 662.1 1072.1 662.6 1073.7 663.1 1075.3 663.6 1077.0 664.1 1078.6 664.5 1080.3 665.0 1081.9 665.4 1083.6 665.8 1085.2 666.2 1086.9 666.6 1088.5 667.0 1090.2 667.4 1091.9 667.7 1093.5 668.1 1095.2 668.4 1096.9 668.8 1098.5 669.1 1100.2 669.4 1101.9 669.7 1103.5 669.9 1105.2 670.2 1106.9 670.5 1108.5 670.7 1110.2 671.0 1111.9 671.2 1113.5 671.4 1115.2 671.6 1116.9 671.8 1118.5 672.0 1120.2 672.1 1121.9 672.3 1123.5 672.4 1125.2 672.6 1126.9 672.7 1128.5 672.8 1130.2 672.9 1131.9 672.9 1133.5 673.0 1135.2 673.1 1136.9 673.1 1138.5 673.1 1140.2 673.1 1141.9 673.1 1143.5 673.1 1145.2 673.1 1146.9 673.1 1148.5 673.0 1150.2 672.9 1151.9 672.9 1153.5 672.8 1155.2 672.6 1156.8 672.5 1157.0 672.5"/>
<path class="d" d="M1157.0 672.5 1158.5 672.4 1160.2 672.2 1161.8 672.1 1163.5 671.9 1165.2 671.7 1166.8 671.5 1168.5 671.3 1170.1 671.0 1171.8 670.8 1173.4 670.5 1175.1 670.2 1176.7 669.9 1178.4 669.6 1180.1 669.3 1181.7 669.0 1183.4 668.6 1185.0 668.2 1186.7 667.8 1188.3 667.4 1189.9 667.0 1191.6 666.6 1193.2 666.1 1194.1 665.9"/>
<path class="mk" d="M73.2 136.2h10M78.2 131.2v10M79.3 85.1h10M84.3 80.1v10M116.6 35.2h10M121.6 30.2v10M264.7 24.4h10M269.7 19.4v10"/>
<path class="mk" d="M366.4 98.5h10M371.4 93.5v10M373.8 89.2h10M378.8 84.2v10M411.1 74.5h10M416.1 69.5v10M559.0 41.1h10M564.0 36.1v10"/>
<path class="mk" d="M706.1 160.9h10M711.1 155.9v10M717.0 74.4h10M722.0 69.4v10M754.6 41.3h10M759.6 36.3v10M893.9 22.0h10M898.9 17.0v10"/>
<path class="mk" d="M1002.5 114.8h10M1007.5 109.8v10M1012.3 104.4h10M1017.3 99.4v10M1050.9 98.3h10M1055.9 93.3v10M1189.9 56.8h10M1194.9 51.8v10"/>
<path class="mk" d="M89.1 427.6h10M94.1 422.6v10M97.7 350.1h10M102.7 345.1v10M97.7 337.6h10M102.7 332.6v10M117.3 297.8h10M122.3 292.8v10M141.8 285.5h10M146.8 280.5v10M264.7 273.0h10M269.7 268.0v10"/>
<path class="mk" d="M383.0 376.1h10M388.0 371.1v10M391.7 357.1h10M396.7 352.1v10M391.7 363.6h10M396.7 358.6v10M411.6 352.8h10M416.6 347.8v10M435.9 353.6h10M440.9 348.6v10M558.9 320.2h10M563.9 315.2v10"/>
<path class="mk" d="M718.9 338.2h10M723.9 333.2v10M732.4 322.9h10M737.4 317.9v10M743.1 302.7h10M748.1 297.7v10M774.5 295.7h10M779.5 290.7v10M809.5 287.2h10M814.5 282.2v10"/>
<path class="mk" d="M1015.1 363.8h10M1020.1 358.8v10M1028.4 375.5h10M1033.4 370.5v10M1039.9 374.4h10M1044.9 369.4v10M1070.3 378.8h10M1075.3 373.8v10M1106.0 384.1h10M1111.0 379.1v10"/>
<path class="mk" d="M91.6 620.8h10M96.6 615.8v10M98.0 575.5h10M103.0 570.5v10M108.5 550.3h10M113.5 545.3v10M148.1 515.8h10M153.1 510.8v10"/>
<path class="mk" d="M384.4 617.4h10M389.4 612.4v10M391.8 615.7h10M396.8 610.7v10M403.3 614.4h10M408.3 609.4v10M442.6 600.9h10M447.6 595.9v10"/>
<path class="mk" d="M742.1 655.4h10M747.1 650.4v10M750.5 640.2h10M755.5 635.2v10M760.8 610.1h10M765.8 605.1v10M782.0 587.0h10M787.0 582.0v10M843.6 526.5h10M848.6 521.5v10M857.4 518.3h10M862.4 513.3v10"/>
<path class="mk" d="M1037.8 654.1h10M1042.8 649.1v10M1046.5 657.5h10M1051.5 652.5v10M1057.2 659.8h10M1062.2 654.8v10M1078.1 664.6h10M1083.1 659.6v10M1139.8 666.0h10M1144.8 661.0v10M1153.5 663.0h10M1158.5 658.0v10"/>
<text class="an" x="170.0" y="123.3">eff. shunt=5 %</text>
<text class="an" x="170.0" y="136.9">RMS=0.2 %</text>
<text class="an" x="170.0" y="155.2">shunt=5 %</text>
<text class="an" x="170.0" y="170.8">ΔPO2=0.01 kPa</text>
<text class="an" x="170.0" y="184.3">RMS=0.2 %</text>
<text class="an" x="799.2" y="123.3">eff. shunt=18 %</text>
<text class="an" x="799.2" y="136.9">RMS=2.1 %</text>
<text class="an" x="799.2" y="155.2">shunt=9 %</text>
<text class="an" x="799.2" y="170.8">ΔPO2=3.86 kPa</text>
<text class="an" x="799.2" y="184.3">RMS=0.3 %</text>
<text class="an" x="170.0" y="368.3">eff. shunt=19 %</text>
<text class="an" x="170.0" y="381.7">RMS=2.2 %</text>
<text class="an" x="170.0" y="400.0">shunt=10 %</text>
<text class="an" x="170.0" y="415.1">ΔPO2=3.68 kPa</text>
<text class="an" x="170.0" y="429.2">RMS=0.4 %</text>
<text class="an" x="801.0" y="368.3">eff. shunt=11 %</text>
<text class="an" x="801.0" y="381.7">RMS=0.7 %</text>
<text class="an" x="801.0" y="400.0">shunt=11 %</text>
<text class="an" x="801.0" y="415.1">ΔPO2=0.38 kPa</text>
<text class="an" x="801.0" y="429.2">RMS=0.7 %</text>
<text class="an" x="172.2" y="609.6">eff. shunt=19 %</text>
<text class="an" x="172.2" y="623.3">RMS=1.8 %</text>
<text class="an" x="172.2" y="641.5">shunt=9 %</text>
<text class="an" x="172.2" y="656.7">ΔPO2=7.13 kPa</text>
<text class="an" x="172.2" y="670.0">RMS=0.2 %</text>
<text class="an" x="801.0" y="609.6">eff. shunt=35 %</text>
<text class="an" x="801.0" y="623.3">RMS=1.7 %</text>
<text class="an" x="801.0" y="641.5">shunt=27 %</text>
<text class="an" x="801.0" y="656.7">ΔPO2=15.05 kPa</text>
<text class="an" x="801.0" y="670.0">RMS=0.9 %</text>
<text class="lb" x="168.2" y="725.9">Inspired oxygen fraction FiO<tspan font-size="12.8" dy="4.9">2</tspan></text>
<text class="lb" x="797.0" y="725.9">Inspired oxygen fraction FiO<tspan font-size="12.8" dy="4.9">2</tspan></text>
<text class="lb" transform="translate(19.6,525.7) rotate(-90)">Arterial oxygen saturation SaO<tspan font-size="12.8" dy="4.9">2</tspan><tspan dy="-4.9"> (%)</tspan></text>
<text class="lb" transform="translate(646.2,525.7) rotate(-90)">Arterial oxygen saturation SaO<tspan font-size="12.8" dy="4.9">2</tspan><tspan dy="-4.9"> (%)</tspan></text>
<text class="lb" transform="translate(319.8,458.3) rotate(-90)">PaO<tspan font-size="12.8" dy="4.9">2</tspan><tspan dy="-4.9">/FiO</tspan><tspan font-size="12.8" dy="4.9">2</tspan><tspan dy="-4.9"> ratio (kPa)</tspan></text>
<text class="lb" transform="translate(950.0,458.3) rotate(-90)">PaO<tspan font-size="12.8" dy="4.9">2</tspan><tspan dy="-4.9">/FiO</tspan><tspan font-size="12.8" dy="4.9">2</tspan><tspan dy="-4.9"> ratio (kPa)</tspan></text>
</svg>
</body></html>
